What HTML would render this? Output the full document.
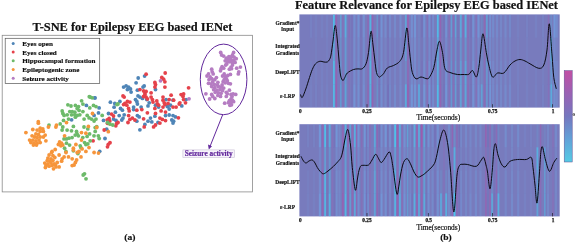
<!DOCTYPE html><html><head><meta charset="utf-8"><title>Figure</title><style>html,body{margin:0;padding:0;background:#fff}svg{display:block}text{font-family:"Liberation Serif",serif}</style></head><body>
<svg width="575" height="242" viewBox="0 0 575 242">
<rect width="575" height="242" fill="#fff"/>
<text x="132.5" y="31.3" font-size="12.6" font-weight="bold" text-anchor="middle" fill="#111" stroke="#111" stroke-width="0.2" textLength="200" lengthAdjust="spacingAndGlyphs">T-SNE for Epilepsy EEG based IENet</text>
<rect x="2.2" y="35.3" width="250.2" height="156.6" fill="#fff" stroke="#8a8a8a" stroke-width="0.8"/>
<g>
<circle cx="106.7" cy="129.2" r="1.9" fill="#4f85b7"/>
<circle cx="94.7" cy="97.8" r="1.9" fill="#4f85b7"/>
<circle cx="105.0" cy="138.5" r="1.9" fill="#4f85b7"/>
<circle cx="99.7" cy="151.3" r="1.9" fill="#4f85b7"/>
<circle cx="123.6" cy="87.1" r="1.9" fill="#4f85b7"/>
<circle cx="126.1" cy="85.9" r="1.9" fill="#4f85b7"/>
<circle cx="128.6" cy="87.1" r="1.9" fill="#4f85b7"/>
<circle cx="130.5" cy="89.0" r="1.9" fill="#4f85b7"/>
<circle cx="127.4" cy="89.6" r="1.9" fill="#4f85b7"/>
<circle cx="131.1" cy="92.1" r="1.9" fill="#4f85b7"/>
<circle cx="137.4" cy="90.2" r="1.9" fill="#4f85b7"/>
<circle cx="143.0" cy="87.1" r="1.9" fill="#4f85b7"/>
<circle cx="144.2" cy="85.9" r="1.9" fill="#4f85b7"/>
<circle cx="155.5" cy="89.6" r="1.9" fill="#4f85b7"/>
<circle cx="138.0" cy="95.9" r="1.9" fill="#4f85b7"/>
<circle cx="139.9" cy="97.1" r="1.9" fill="#4f85b7"/>
<circle cx="142.4" cy="98.4" r="1.9" fill="#4f85b7"/>
<circle cx="135.5" cy="99.6" r="1.9" fill="#4f85b7"/>
<circle cx="136.8" cy="101.5" r="1.9" fill="#4f85b7"/>
<circle cx="137.4" cy="104.0" r="1.9" fill="#4f85b7"/>
<circle cx="119.9" cy="101.5" r="1.9" fill="#4f85b7"/>
<circle cx="120.5" cy="108.4" r="1.9" fill="#4f85b7"/>
<circle cx="122.4" cy="110.2" r="1.9" fill="#4f85b7"/>
<circle cx="133.6" cy="107.1" r="1.9" fill="#4f85b7"/>
<circle cx="133.6" cy="109.6" r="1.9" fill="#4f85b7"/>
<circle cx="141.1" cy="107.1" r="1.9" fill="#4f85b7"/>
<circle cx="146.8" cy="99.6" r="1.9" fill="#4f85b7"/>
<circle cx="148.0" cy="105.9" r="1.9" fill="#4f85b7"/>
<circle cx="149.2" cy="102.8" r="1.9" fill="#4f85b7"/>
<circle cx="155.5" cy="105.2" r="1.9" fill="#4f85b7"/>
<circle cx="158.6" cy="107.1" r="1.9" fill="#4f85b7"/>
<circle cx="166.1" cy="99.6" r="1.9" fill="#4f85b7"/>
<circle cx="167.4" cy="106.5" r="1.9" fill="#4f85b7"/>
<circle cx="169.2" cy="109.0" r="1.9" fill="#4f85b7"/>
<circle cx="170.5" cy="105.2" r="1.9" fill="#4f85b7"/>
<circle cx="181.8" cy="105.9" r="1.9" fill="#4f85b7"/>
<circle cx="186.1" cy="99.6" r="1.9" fill="#4f85b7"/>
<circle cx="173.0" cy="100.2" r="1.9" fill="#4f85b7"/>
<circle cx="119.2" cy="115.6" r="1.9" fill="#4f85b7"/>
<circle cx="124.2" cy="114.8" r="1.9" fill="#4f85b7"/>
<circle cx="123.0" cy="118.1" r="1.9" fill="#4f85b7"/>
<circle cx="121.8" cy="120.0" r="1.9" fill="#4f85b7"/>
<circle cx="137.4" cy="115.6" r="1.9" fill="#4f85b7"/>
<circle cx="139.2" cy="116.9" r="1.9" fill="#4f85b7"/>
<circle cx="136.8" cy="121.2" r="1.9" fill="#4f85b7"/>
<circle cx="148.0" cy="121.2" r="1.9" fill="#4f85b7"/>
<circle cx="150.5" cy="118.1" r="1.9" fill="#4f85b7"/>
<circle cx="151.8" cy="121.9" r="1.9" fill="#4f85b7"/>
<circle cx="144.9" cy="124.4" r="1.9" fill="#4f85b7"/>
<circle cx="154.9" cy="116.2" r="1.9" fill="#4f85b7"/>
<circle cx="158.0" cy="122.5" r="1.9" fill="#4f85b7"/>
<circle cx="139.9" cy="129.8" r="1.9" fill="#4f85b7"/>
<circle cx="165.5" cy="115.6" r="1.9" fill="#4f85b7"/>
<circle cx="169.2" cy="115.0" r="1.9" fill="#4f85b7"/>
<circle cx="173.0" cy="115.6" r="1.9" fill="#4f85b7"/>
<circle cx="175.5" cy="116.9" r="1.9" fill="#4f85b7"/>
<circle cx="171.8" cy="120.0" r="1.9" fill="#4f85b7"/>
<circle cx="173.6" cy="121.2" r="1.9" fill="#4f85b7"/>
<circle cx="173.0" cy="123.1" r="1.9" fill="#4f85b7"/>
<circle cx="144.6" cy="76.1" r="1.9" fill="#4f85b7"/>
<circle cx="138.2" cy="78.0" r="1.9" fill="#4f85b7"/>
<circle cx="136.1" cy="82.8" r="1.9" fill="#4f85b7"/>
<circle cx="95.0" cy="97.9" r="1.9" fill="#4f85b7"/>
<circle cx="86.4" cy="105.4" r="1.9" fill="#4f85b7"/>
<circle cx="99.1" cy="107.9" r="1.9" fill="#4f85b7"/>
<circle cx="98.5" cy="112.9" r="1.9" fill="#4f85b7"/>
<circle cx="94.1" cy="115.4" r="1.9" fill="#4f85b7"/>
<circle cx="71.6" cy="119.8" r="1.9" fill="#4f85b7"/>
<circle cx="110.4" cy="102.2" r="1.9" fill="#4f85b7"/>
<circle cx="114.8" cy="103.5" r="1.9" fill="#4f85b7"/>
<circle cx="114.1" cy="107.2" r="1.9" fill="#4f85b7"/>
<circle cx="108.5" cy="113.5" r="1.9" fill="#4f85b7"/>
<circle cx="115.4" cy="112.2" r="1.9" fill="#4f85b7"/>
<circle cx="116.0" cy="120.4" r="1.9" fill="#4f85b7"/>
<circle cx="113.5" cy="119.1" r="1.9" fill="#4f85b7"/>
<circle cx="103.5" cy="120.4" r="1.9" fill="#4f85b7"/>
<circle cx="107.5" cy="123.3" r="1.9" fill="#e5424b"/>
<circle cx="116.7" cy="123.3" r="1.9" fill="#e5424b"/>
<circle cx="115.8" cy="125.8" r="1.9" fill="#e5424b"/>
<circle cx="104.2" cy="130.0" r="1.9" fill="#e5424b"/>
<circle cx="110.0" cy="142.7" r="1.9" fill="#e5424b"/>
<circle cx="108.3" cy="144.3" r="1.9" fill="#e5424b"/>
<circle cx="107.5" cy="146.8" r="1.9" fill="#e5424b"/>
<circle cx="123.0" cy="95.9" r="1.9" fill="#e5424b"/>
<circle cx="124.2" cy="97.1" r="1.9" fill="#e5424b"/>
<circle cx="127.4" cy="101.5" r="1.9" fill="#e5424b"/>
<circle cx="124.9" cy="103.4" r="1.9" fill="#e5424b"/>
<circle cx="123.6" cy="104.6" r="1.9" fill="#e5424b"/>
<circle cx="126.8" cy="105.2" r="1.9" fill="#e5424b"/>
<circle cx="129.9" cy="102.1" r="1.9" fill="#e5424b"/>
<circle cx="128.6" cy="108.4" r="1.9" fill="#e5424b"/>
<circle cx="129.2" cy="110.9" r="1.9" fill="#e5424b"/>
<circle cx="136.8" cy="110.2" r="1.9" fill="#e5424b"/>
<circle cx="141.8" cy="109.6" r="1.9" fill="#e5424b"/>
<circle cx="139.9" cy="89.6" r="1.9" fill="#e5424b"/>
<circle cx="143.6" cy="90.9" r="1.9" fill="#e5424b"/>
<circle cx="144.9" cy="92.8" r="1.9" fill="#e5424b"/>
<circle cx="146.1" cy="91.5" r="1.9" fill="#e5424b"/>
<circle cx="144.9" cy="94.6" r="1.9" fill="#e5424b"/>
<circle cx="143.6" cy="96.5" r="1.9" fill="#e5424b"/>
<circle cx="146.1" cy="97.1" r="1.9" fill="#e5424b"/>
<circle cx="147.4" cy="99.0" r="1.9" fill="#e5424b"/>
<circle cx="151.1" cy="92.8" r="1.9" fill="#e5424b"/>
<circle cx="151.1" cy="97.1" r="1.9" fill="#e5424b"/>
<circle cx="152.4" cy="99.6" r="1.9" fill="#e5424b"/>
<circle cx="153.0" cy="102.1" r="1.9" fill="#e5424b"/>
<circle cx="154.9" cy="87.1" r="1.9" fill="#e5424b"/>
<circle cx="155.5" cy="84.6" r="1.9" fill="#e5424b"/>
<circle cx="164.9" cy="87.1" r="1.9" fill="#e5424b"/>
<circle cx="156.8" cy="100.9" r="1.9" fill="#e5424b"/>
<circle cx="157.4" cy="104.0" r="1.9" fill="#e5424b"/>
<circle cx="158.6" cy="105.2" r="1.9" fill="#e5424b"/>
<circle cx="163.0" cy="97.1" r="1.9" fill="#e5424b"/>
<circle cx="163.0" cy="100.2" r="1.9" fill="#e5424b"/>
<circle cx="164.2" cy="102.8" r="1.9" fill="#e5424b"/>
<circle cx="164.9" cy="104.6" r="1.9" fill="#e5424b"/>
<circle cx="168.0" cy="103.4" r="1.9" fill="#e5424b"/>
<circle cx="163.0" cy="107.1" r="1.9" fill="#e5424b"/>
<circle cx="154.9" cy="108.4" r="1.9" fill="#e5424b"/>
<circle cx="161.1" cy="110.9" r="1.9" fill="#e5424b"/>
<circle cx="169.2" cy="99.6" r="1.9" fill="#e5424b"/>
<circle cx="171.1" cy="95.2" r="1.9" fill="#e5424b"/>
<circle cx="173.6" cy="100.2" r="1.9" fill="#e5424b"/>
<circle cx="173.0" cy="107.1" r="1.9" fill="#e5424b"/>
<circle cx="176.1" cy="107.1" r="1.9" fill="#e5424b"/>
<circle cx="179.2" cy="104.0" r="1.9" fill="#e5424b"/>
<circle cx="179.9" cy="102.8" r="1.9" fill="#e5424b"/>
<circle cx="181.1" cy="94.6" r="1.9" fill="#e5424b"/>
<circle cx="183.6" cy="94.0" r="1.9" fill="#e5424b"/>
<circle cx="183.0" cy="96.5" r="1.9" fill="#e5424b"/>
<circle cx="183.6" cy="99.6" r="1.9" fill="#e5424b"/>
<circle cx="185.5" cy="102.8" r="1.9" fill="#e5424b"/>
<circle cx="188.6" cy="87.8" r="1.9" fill="#e5424b"/>
<circle cx="165.5" cy="112.1" r="1.9" fill="#e5424b"/>
<circle cx="147.4" cy="112.8" r="1.9" fill="#e5424b"/>
<circle cx="155.5" cy="113.4" r="1.9" fill="#e5424b"/>
<circle cx="128.6" cy="115.6" r="1.9" fill="#e5424b"/>
<circle cx="129.9" cy="119.4" r="1.9" fill="#e5424b"/>
<circle cx="132.4" cy="118.1" r="1.9" fill="#e5424b"/>
<circle cx="134.9" cy="120.0" r="1.9" fill="#e5424b"/>
<circle cx="128.0" cy="122.5" r="1.9" fill="#e5424b"/>
<circle cx="118.0" cy="122.5" r="1.9" fill="#e5424b"/>
<circle cx="143.6" cy="118.8" r="1.9" fill="#e5424b"/>
<circle cx="159.9" cy="118.1" r="1.9" fill="#e5424b"/>
<circle cx="162.4" cy="119.4" r="1.9" fill="#e5424b"/>
<circle cx="165.5" cy="120.6" r="1.9" fill="#e5424b"/>
<circle cx="159.9" cy="123.1" r="1.9" fill="#e5424b"/>
<circle cx="155.5" cy="125.0" r="1.9" fill="#e5424b"/>
<circle cx="153.6" cy="126.9" r="1.9" fill="#e5424b"/>
<circle cx="144.2" cy="126.9" r="1.9" fill="#e5424b"/>
<circle cx="178.4" cy="117.8" r="1.9" fill="#e5424b"/>
<circle cx="146.1" cy="74.2" r="1.9" fill="#e5424b"/>
<circle cx="165.2" cy="73.0" r="1.9" fill="#e5424b"/>
<circle cx="161.8" cy="77.4" r="1.9" fill="#e5424b"/>
<circle cx="163.6" cy="79.2" r="1.9" fill="#e5424b"/>
<circle cx="164.9" cy="81.8" r="1.9" fill="#e5424b"/>
<circle cx="154.9" cy="82.4" r="1.9" fill="#e5424b"/>
<circle cx="93.1" cy="140.8" r="1.9" fill="#e5424b"/>
<circle cx="111.6" cy="114.1" r="1.9" fill="#e5424b"/>
<circle cx="113.5" cy="116.0" r="1.9" fill="#e5424b"/>
<circle cx="109.1" cy="118.5" r="1.9" fill="#e5424b"/>
<circle cx="107.2" cy="119.8" r="1.9" fill="#e5424b"/>
<circle cx="109.8" cy="121.0" r="1.9" fill="#e5424b"/>
<circle cx="96.7" cy="126.7" r="1.9" fill="#6dba6a"/>
<circle cx="98.3" cy="135.8" r="1.9" fill="#6dba6a"/>
<circle cx="110.0" cy="124.2" r="1.9" fill="#6dba6a"/>
<circle cx="112.8" cy="125.0" r="1.9" fill="#6dba6a"/>
<circle cx="107.5" cy="122.5" r="1.9" fill="#6dba6a"/>
<circle cx="89.3" cy="96.7" r="1.9" fill="#6dba6a"/>
<circle cx="92.2" cy="97.8" r="1.9" fill="#6dba6a"/>
<circle cx="99.2" cy="138.5" r="1.9" fill="#6dba6a"/>
<circle cx="118.0" cy="104.0" r="1.9" fill="#6dba6a"/>
<circle cx="49.0" cy="125.1" r="1.9" fill="#6dba6a"/>
<circle cx="60.2" cy="123.9" r="1.9" fill="#6dba6a"/>
<circle cx="62.8" cy="127.0" r="1.9" fill="#6dba6a"/>
<circle cx="62.1" cy="130.1" r="1.9" fill="#6dba6a"/>
<circle cx="67.1" cy="130.1" r="1.9" fill="#6dba6a"/>
<circle cx="71.5" cy="130.8" r="1.9" fill="#6dba6a"/>
<circle cx="73.4" cy="126.4" r="1.9" fill="#6dba6a"/>
<circle cx="76.5" cy="131.4" r="1.9" fill="#6dba6a"/>
<circle cx="77.1" cy="133.9" r="1.9" fill="#6dba6a"/>
<circle cx="75.2" cy="135.1" r="1.9" fill="#6dba6a"/>
<circle cx="78.4" cy="135.8" r="1.9" fill="#6dba6a"/>
<circle cx="72.1" cy="137.6" r="1.9" fill="#6dba6a"/>
<circle cx="69.0" cy="138.2" r="1.9" fill="#6dba6a"/>
<circle cx="66.5" cy="138.9" r="1.9" fill="#6dba6a"/>
<circle cx="64.0" cy="138.9" r="1.9" fill="#6dba6a"/>
<circle cx="84.0" cy="127.0" r="1.9" fill="#6dba6a"/>
<circle cx="87.8" cy="128.9" r="1.9" fill="#6dba6a"/>
<circle cx="95.2" cy="127.6" r="1.9" fill="#6dba6a"/>
<circle cx="95.2" cy="131.4" r="1.9" fill="#6dba6a"/>
<circle cx="82.8" cy="137.6" r="1.9" fill="#6dba6a"/>
<circle cx="87.1" cy="136.4" r="1.9" fill="#6dba6a"/>
<circle cx="89.6" cy="133.9" r="1.9" fill="#6dba6a"/>
<circle cx="66.5" cy="143.2" r="1.9" fill="#6dba6a"/>
<circle cx="69.6" cy="145.1" r="1.9" fill="#6dba6a"/>
<circle cx="64.6" cy="148.2" r="1.9" fill="#6dba6a"/>
<circle cx="65.9" cy="151.4" r="1.9" fill="#6dba6a"/>
<circle cx="80.2" cy="145.8" r="1.9" fill="#6dba6a"/>
<circle cx="80.9" cy="147.6" r="1.9" fill="#6dba6a"/>
<circle cx="84.6" cy="142.6" r="1.9" fill="#6dba6a"/>
<circle cx="85.9" cy="144.5" r="1.9" fill="#6dba6a"/>
<circle cx="87.8" cy="143.9" r="1.9" fill="#6dba6a"/>
<circle cx="90.2" cy="140.8" r="1.9" fill="#6dba6a"/>
<circle cx="94.0" cy="135.8" r="1.9" fill="#6dba6a"/>
<circle cx="73.4" cy="150.8" r="1.9" fill="#6dba6a"/>
<circle cx="77.9" cy="153.5" r="1.9" fill="#6dba6a"/>
<circle cx="84.5" cy="173.8" r="1.9" fill="#6dba6a"/>
<circle cx="83.2" cy="175.0" r="1.9" fill="#6dba6a"/>
<circle cx="86.0" cy="178.8" r="1.9" fill="#6dba6a"/>
<circle cx="90.4" cy="97.2" r="1.9" fill="#6dba6a"/>
<circle cx="81.6" cy="100.8" r="1.9" fill="#6dba6a"/>
<circle cx="82.9" cy="104.1" r="1.9" fill="#6dba6a"/>
<circle cx="67.9" cy="104.8" r="1.9" fill="#6dba6a"/>
<circle cx="71.0" cy="106.0" r="1.9" fill="#6dba6a"/>
<circle cx="75.4" cy="105.4" r="1.9" fill="#6dba6a"/>
<circle cx="78.5" cy="106.6" r="1.9" fill="#6dba6a"/>
<circle cx="77.2" cy="108.5" r="1.9" fill="#6dba6a"/>
<circle cx="79.1" cy="110.4" r="1.9" fill="#6dba6a"/>
<circle cx="82.9" cy="111.6" r="1.9" fill="#6dba6a"/>
<circle cx="62.2" cy="111.0" r="1.9" fill="#6dba6a"/>
<circle cx="62.9" cy="113.5" r="1.9" fill="#6dba6a"/>
<circle cx="64.1" cy="115.4" r="1.9" fill="#6dba6a"/>
<circle cx="67.2" cy="114.8" r="1.9" fill="#6dba6a"/>
<circle cx="69.8" cy="111.6" r="1.9" fill="#6dba6a"/>
<circle cx="72.2" cy="111.6" r="1.9" fill="#6dba6a"/>
<circle cx="74.8" cy="112.2" r="1.9" fill="#6dba6a"/>
<circle cx="71.6" cy="114.8" r="1.9" fill="#6dba6a"/>
<circle cx="74.8" cy="114.8" r="1.9" fill="#6dba6a"/>
<circle cx="77.2" cy="115.4" r="1.9" fill="#6dba6a"/>
<circle cx="79.8" cy="114.8" r="1.9" fill="#6dba6a"/>
<circle cx="75.4" cy="117.2" r="1.9" fill="#6dba6a"/>
<circle cx="68.5" cy="119.1" r="1.9" fill="#6dba6a"/>
<circle cx="63.5" cy="120.4" r="1.9" fill="#6dba6a"/>
<circle cx="84.1" cy="119.1" r="1.9" fill="#6dba6a"/>
<circle cx="87.2" cy="115.4" r="1.9" fill="#6dba6a"/>
<circle cx="89.1" cy="117.9" r="1.9" fill="#6dba6a"/>
<circle cx="91.6" cy="119.1" r="1.9" fill="#6dba6a"/>
<circle cx="94.1" cy="121.0" r="1.9" fill="#6dba6a"/>
<circle cx="96.0" cy="119.1" r="1.9" fill="#6dba6a"/>
<circle cx="89.8" cy="107.9" r="1.9" fill="#6dba6a"/>
<circle cx="93.5" cy="105.4" r="1.9" fill="#6dba6a"/>
<circle cx="96.0" cy="106.6" r="1.9" fill="#6dba6a"/>
<circle cx="102.2" cy="115.4" r="1.9" fill="#6dba6a"/>
<circle cx="117.0" cy="104.5" r="1.9" fill="#6dba6a"/>
<circle cx="38.3" cy="121.7" r="1.9" fill="#f6953b"/>
<circle cx="96.7" cy="127.5" r="1.9" fill="#f6953b"/>
<circle cx="108.3" cy="131.7" r="1.9" fill="#f6953b"/>
<circle cx="25.9" cy="132.6" r="1.9" fill="#f6953b"/>
<circle cx="32.8" cy="129.5" r="1.9" fill="#f6953b"/>
<circle cx="37.1" cy="130.1" r="1.9" fill="#f6953b"/>
<circle cx="40.2" cy="128.2" r="1.9" fill="#f6953b"/>
<circle cx="42.8" cy="128.9" r="1.9" fill="#f6953b"/>
<circle cx="43.4" cy="131.4" r="1.9" fill="#f6953b"/>
<circle cx="40.2" cy="131.4" r="1.9" fill="#f6953b"/>
<circle cx="35.9" cy="133.9" r="1.9" fill="#f6953b"/>
<circle cx="38.4" cy="134.5" r="1.9" fill="#f6953b"/>
<circle cx="32.1" cy="135.8" r="1.9" fill="#f6953b"/>
<circle cx="34.6" cy="137.0" r="1.9" fill="#f6953b"/>
<circle cx="37.1" cy="137.6" r="1.9" fill="#f6953b"/>
<circle cx="40.2" cy="137.0" r="1.9" fill="#f6953b"/>
<circle cx="45.2" cy="135.1" r="1.9" fill="#f6953b"/>
<circle cx="29.6" cy="140.1" r="1.9" fill="#f6953b"/>
<circle cx="32.8" cy="140.1" r="1.9" fill="#f6953b"/>
<circle cx="35.9" cy="140.8" r="1.9" fill="#f6953b"/>
<circle cx="39.0" cy="140.1" r="1.9" fill="#f6953b"/>
<circle cx="30.9" cy="142.6" r="1.9" fill="#f6953b"/>
<circle cx="34.0" cy="143.2" r="1.9" fill="#f6953b"/>
<circle cx="37.1" cy="143.2" r="1.9" fill="#f6953b"/>
<circle cx="40.2" cy="142.6" r="1.9" fill="#f6953b"/>
<circle cx="33.4" cy="145.1" r="1.9" fill="#f6953b"/>
<circle cx="36.5" cy="145.1" r="1.9" fill="#f6953b"/>
<circle cx="43.4" cy="137.0" r="1.9" fill="#f6953b"/>
<circle cx="45.9" cy="140.8" r="1.9" fill="#f6953b"/>
<circle cx="48.4" cy="127.0" r="1.9" fill="#f6953b"/>
<circle cx="38.4" cy="123.2" r="1.9" fill="#f6953b"/>
<circle cx="55.9" cy="127.0" r="1.9" fill="#f6953b"/>
<circle cx="56.5" cy="125.1" r="1.9" fill="#f6953b"/>
<circle cx="66.5" cy="122.6" r="1.9" fill="#f6953b"/>
<circle cx="64.6" cy="135.8" r="1.9" fill="#f6953b"/>
<circle cx="59.6" cy="142.0" r="1.9" fill="#f6953b"/>
<circle cx="61.5" cy="143.2" r="1.9" fill="#f6953b"/>
<circle cx="58.4" cy="144.5" r="1.9" fill="#f6953b"/>
<circle cx="60.9" cy="145.8" r="1.9" fill="#f6953b"/>
<circle cx="62.8" cy="145.1" r="1.9" fill="#f6953b"/>
<circle cx="55.2" cy="149.5" r="1.9" fill="#f6953b"/>
<circle cx="52.1" cy="151.4" r="1.9" fill="#f6953b"/>
<circle cx="75.9" cy="144.5" r="1.9" fill="#f6953b"/>
<circle cx="73.4" cy="148.2" r="1.9" fill="#f6953b"/>
<circle cx="73.4" cy="150.1" r="1.9" fill="#f6953b"/>
<circle cx="81.5" cy="140.1" r="1.9" fill="#f6953b"/>
<circle cx="81.5" cy="132.6" r="1.9" fill="#f6953b"/>
<circle cx="85.9" cy="133.2" r="1.9" fill="#f6953b"/>
<circle cx="88.4" cy="126.4" r="1.9" fill="#f6953b"/>
<circle cx="89.0" cy="147.6" r="1.9" fill="#f6953b"/>
<circle cx="82.1" cy="148.9" r="1.9" fill="#f6953b"/>
<circle cx="79.0" cy="151.4" r="1.9" fill="#f6953b"/>
<circle cx="85.9" cy="151.4" r="1.9" fill="#f6953b"/>
<circle cx="51.6" cy="152.5" r="1.9" fill="#f6953b"/>
<circle cx="49.1" cy="155.0" r="1.9" fill="#f6953b"/>
<circle cx="52.9" cy="155.6" r="1.9" fill="#f6953b"/>
<circle cx="47.9" cy="158.1" r="1.9" fill="#f6953b"/>
<circle cx="51.0" cy="158.8" r="1.9" fill="#f6953b"/>
<circle cx="54.8" cy="157.5" r="1.9" fill="#f6953b"/>
<circle cx="47.2" cy="160.6" r="1.9" fill="#f6953b"/>
<circle cx="49.8" cy="161.2" r="1.9" fill="#f6953b"/>
<circle cx="52.9" cy="160.6" r="1.9" fill="#f6953b"/>
<circle cx="44.8" cy="163.1" r="1.9" fill="#f6953b"/>
<circle cx="47.9" cy="163.8" r="1.9" fill="#f6953b"/>
<circle cx="51.0" cy="163.1" r="1.9" fill="#f6953b"/>
<circle cx="54.1" cy="163.8" r="1.9" fill="#f6953b"/>
<circle cx="57.2" cy="162.5" r="1.9" fill="#f6953b"/>
<circle cx="46.0" cy="165.6" r="1.9" fill="#f6953b"/>
<circle cx="49.1" cy="166.2" r="1.9" fill="#f6953b"/>
<circle cx="52.2" cy="165.6" r="1.9" fill="#f6953b"/>
<circle cx="55.4" cy="165.0" r="1.9" fill="#f6953b"/>
<circle cx="45.4" cy="167.5" r="1.9" fill="#f6953b"/>
<circle cx="53.5" cy="168.8" r="1.9" fill="#f6953b"/>
<circle cx="59.1" cy="166.9" r="1.9" fill="#f6953b"/>
<circle cx="56.0" cy="166.9" r="1.9" fill="#f6953b"/>
<circle cx="59.1" cy="155.0" r="1.9" fill="#f6953b"/>
<circle cx="64.1" cy="156.9" r="1.9" fill="#f6953b"/>
<circle cx="62.2" cy="158.8" r="1.9" fill="#f6953b"/>
<circle cx="61.6" cy="161.2" r="1.9" fill="#f6953b"/>
<circle cx="68.5" cy="156.9" r="1.9" fill="#f6953b"/>
<circle cx="72.2" cy="158.8" r="1.9" fill="#f6953b"/>
<circle cx="66.0" cy="152.5" r="1.9" fill="#f6953b"/>
<circle cx="77.2" cy="152.5" r="1.9" fill="#f6953b"/>
<circle cx="81.0" cy="156.9" r="1.9" fill="#f6953b"/>
<circle cx="76.6" cy="160.0" r="1.9" fill="#f6953b"/>
<circle cx="75.4" cy="162.5" r="1.9" fill="#f6953b"/>
<circle cx="74.1" cy="165.0" r="1.9" fill="#f6953b"/>
<circle cx="72.2" cy="165.6" r="1.9" fill="#f6953b"/>
<circle cx="94.1" cy="152.5" r="1.9" fill="#f6953b"/>
<circle cx="98.5" cy="153.1" r="1.9" fill="#f6953b"/>
<circle cx="92.5" cy="113.5" r="1.9" fill="#f6953b"/>
<circle cx="189.0" cy="98.8" r="1.9" fill="#b57cc2"/>
<circle cx="160.5" cy="80.8" r="1.9" fill="#b57cc2"/>
<circle cx="220.7" cy="52.4" r="1.9" fill="#b57cc2"/>
<circle cx="221.6" cy="55.0" r="1.9" fill="#b57cc2"/>
<circle cx="223.7" cy="56.1" r="1.9" fill="#b57cc2"/>
<circle cx="233.6" cy="52.4" r="1.9" fill="#b57cc2"/>
<circle cx="232.5" cy="55.0" r="1.9" fill="#b57cc2"/>
<circle cx="228.9" cy="56.6" r="1.9" fill="#b57cc2"/>
<circle cx="231.5" cy="56.6" r="1.9" fill="#b57cc2"/>
<circle cx="234.1" cy="57.1" r="1.9" fill="#b57cc2"/>
<circle cx="226.3" cy="58.2" r="1.9" fill="#b57cc2"/>
<circle cx="236.2" cy="58.7" r="1.9" fill="#b57cc2"/>
<circle cx="228.4" cy="59.2" r="1.9" fill="#b57cc2"/>
<circle cx="231.0" cy="59.7" r="1.9" fill="#b57cc2"/>
<circle cx="233.6" cy="60.3" r="1.9" fill="#b57cc2"/>
<circle cx="225.2" cy="60.8" r="1.9" fill="#b57cc2"/>
<circle cx="227.3" cy="61.8" r="1.9" fill="#b57cc2"/>
<circle cx="229.9" cy="61.8" r="1.9" fill="#b57cc2"/>
<circle cx="232.5" cy="62.4" r="1.9" fill="#b57cc2"/>
<circle cx="235.1" cy="62.4" r="1.9" fill="#b57cc2"/>
<circle cx="226.8" cy="63.9" r="1.9" fill="#b57cc2"/>
<circle cx="225.7" cy="65.0" r="1.9" fill="#b57cc2"/>
<circle cx="222.1" cy="66.6" r="1.9" fill="#b57cc2"/>
<circle cx="221.1" cy="68.7" r="1.9" fill="#b57cc2"/>
<circle cx="220.5" cy="70.8" r="1.9" fill="#b57cc2"/>
<circle cx="223.7" cy="68.2" r="1.9" fill="#b57cc2"/>
<circle cx="231.0" cy="67.1" r="1.9" fill="#b57cc2"/>
<circle cx="229.4" cy="69.2" r="1.9" fill="#b57cc2"/>
<circle cx="231.5" cy="68.7" r="1.9" fill="#b57cc2"/>
<circle cx="236.7" cy="68.2" r="1.9" fill="#b57cc2"/>
<circle cx="240.4" cy="67.1" r="1.9" fill="#b57cc2"/>
<circle cx="238.8" cy="71.8" r="1.9" fill="#b57cc2"/>
<circle cx="238.3" cy="73.9" r="1.9" fill="#b57cc2"/>
<circle cx="211.7" cy="69.2" r="1.9" fill="#b57cc2"/>
<circle cx="212.2" cy="71.8" r="1.9" fill="#b57cc2"/>
<circle cx="208.5" cy="73.9" r="1.9" fill="#b57cc2"/>
<circle cx="213.2" cy="73.9" r="1.9" fill="#b57cc2"/>
<circle cx="207.0" cy="76.0" r="1.9" fill="#b57cc2"/>
<circle cx="210.1" cy="77.0" r="1.9" fill="#b57cc2"/>
<circle cx="209.0" cy="79.7" r="1.9" fill="#b57cc2"/>
<circle cx="211.7" cy="78.6" r="1.9" fill="#b57cc2"/>
<circle cx="216.4" cy="77.6" r="1.9" fill="#b57cc2"/>
<circle cx="214.8" cy="79.7" r="1.9" fill="#b57cc2"/>
<circle cx="212.7" cy="81.7" r="1.9" fill="#b57cc2"/>
<circle cx="208.5" cy="83.3" r="1.9" fill="#b57cc2"/>
<circle cx="211.1" cy="83.8" r="1.9" fill="#b57cc2"/>
<circle cx="214.3" cy="84.4" r="1.9" fill="#b57cc2"/>
<circle cx="217.9" cy="82.3" r="1.9" fill="#b57cc2"/>
<circle cx="217.4" cy="84.9" r="1.9" fill="#b57cc2"/>
<circle cx="224.2" cy="73.9" r="1.9" fill="#b57cc2"/>
<circle cx="222.6" cy="76.0" r="1.9" fill="#b57cc2"/>
<circle cx="225.2" cy="76.5" r="1.9" fill="#b57cc2"/>
<circle cx="227.8" cy="75.5" r="1.9" fill="#b57cc2"/>
<circle cx="230.4" cy="74.4" r="1.9" fill="#b57cc2"/>
<circle cx="226.3" cy="78.6" r="1.9" fill="#b57cc2"/>
<circle cx="224.2" cy="79.7" r="1.9" fill="#b57cc2"/>
<circle cx="227.3" cy="80.7" r="1.9" fill="#b57cc2"/>
<circle cx="223.1" cy="81.7" r="1.9" fill="#b57cc2"/>
<circle cx="225.2" cy="82.8" r="1.9" fill="#b57cc2"/>
<circle cx="228.4" cy="83.3" r="1.9" fill="#b57cc2"/>
<circle cx="230.4" cy="83.8" r="1.9" fill="#b57cc2"/>
<circle cx="222.1" cy="84.9" r="1.9" fill="#b57cc2"/>
<circle cx="232.5" cy="65.0" r="1.9" fill="#b57cc2"/>
<circle cx="211.7" cy="86.5" r="1.9" fill="#b57cc2"/>
<circle cx="214.8" cy="87.6" r="1.9" fill="#b57cc2"/>
<circle cx="218.4" cy="86.5" r="1.9" fill="#b57cc2"/>
<circle cx="221.6" cy="87.0" r="1.9" fill="#b57cc2"/>
<circle cx="223.7" cy="88.1" r="1.9" fill="#b57cc2"/>
<circle cx="213.7" cy="89.7" r="1.9" fill="#b57cc2"/>
<circle cx="216.9" cy="90.2" r="1.9" fill="#b57cc2"/>
<circle cx="220.0" cy="89.7" r="1.9" fill="#b57cc2"/>
<circle cx="222.6" cy="90.7" r="1.9" fill="#b57cc2"/>
<circle cx="229.4" cy="90.2" r="1.9" fill="#b57cc2"/>
<circle cx="215.3" cy="92.3" r="1.9" fill="#b57cc2"/>
<circle cx="218.4" cy="92.8" r="1.9" fill="#b57cc2"/>
<circle cx="221.1" cy="93.3" r="1.9" fill="#b57cc2"/>
<circle cx="226.3" cy="92.3" r="1.9" fill="#b57cc2"/>
<circle cx="227.3" cy="93.8" r="1.9" fill="#b57cc2"/>
<circle cx="217.9" cy="95.4" r="1.9" fill="#b57cc2"/>
<circle cx="220.5" cy="96.4" r="1.9" fill="#b57cc2"/>
<circle cx="226.3" cy="96.4" r="1.9" fill="#b57cc2"/>
<circle cx="231.0" cy="94.4" r="1.9" fill="#b57cc2"/>
<circle cx="233.1" cy="93.8" r="1.9" fill="#b57cc2"/>
<circle cx="235.7" cy="94.4" r="1.9" fill="#b57cc2"/>
<circle cx="232.0" cy="96.4" r="1.9" fill="#b57cc2"/>
<circle cx="205.9" cy="93.8" r="1.9" fill="#b57cc2"/>
<circle cx="211.7" cy="94.4" r="1.9" fill="#b57cc2"/>
<circle cx="212.7" cy="96.4" r="1.9" fill="#b57cc2"/>
<circle cx="209.6" cy="99.0" r="1.9" fill="#b57cc2"/>
<circle cx="214.8" cy="98.5" r="1.9" fill="#b57cc2"/>
<circle cx="231.0" cy="99.0" r="1.9" fill="#b57cc2"/>
<circle cx="232.5" cy="100.1" r="1.9" fill="#b57cc2"/>
<circle cx="229.4" cy="100.6" r="1.9" fill="#b57cc2"/>
<circle cx="233.6" cy="101.7" r="1.9" fill="#b57cc2"/>
<circle cx="228.4" cy="102.7" r="1.9" fill="#b57cc2"/>
<circle cx="231.0" cy="102.7" r="1.9" fill="#b57cc2"/>
<circle cx="224.7" cy="103.2" r="1.9" fill="#b57cc2"/>
<circle cx="229.9" cy="105.3" r="1.9" fill="#b57cc2"/>
<circle cx="231.5" cy="104.8" r="1.9" fill="#b57cc2"/>
</g>
<ellipse cx="223.6" cy="79.4" rx="23.3" ry="35.3" fill="none" stroke="#62289c" stroke-width="1"/>
<path d="M222.7 114.7 L210 146.5" fill="none" stroke="#62289c" stroke-width="1"/>
<path d="M208.8 149.6 L208 144.6 L212 146.2 Z" fill="#62289c"/>
<rect x="182.9" y="149.9" width="51.6" height="7.5" fill="#f7f3fb" stroke="#c8c0d6" stroke-width="0.6"/>
<text x="208.7" y="156.1" font-size="7.6" font-weight="bold" text-anchor="middle" fill="#62289c" stroke="#62289c" stroke-width="0.2" textLength="48" lengthAdjust="spacingAndGlyphs">Seizure activity</text>
<rect x="5.2" y="38.3" width="94.5" height="45.1" fill="#fff" stroke="#555" stroke-width="0.7"/>
<circle cx="13.2" cy="43.4" r="1.5" fill="#4f85b7"/>
<text x="22.3" y="46.0" font-size="6.6" font-weight="bold" fill="#111" stroke="#111" stroke-width="0.15" textLength="30.6" lengthAdjust="spacingAndGlyphs">Eyes open</text>
<circle cx="13.2" cy="52.1" r="1.5" fill="#e5424b"/>
<text x="22.3" y="54.7" font-size="6.6" font-weight="bold" fill="#111" stroke="#111" stroke-width="0.15" textLength="34.5" lengthAdjust="spacingAndGlyphs">Eyes closed</text>
<circle cx="13.2" cy="60.8" r="1.5" fill="#6dba6a"/>
<text x="22.3" y="63.4" font-size="6.6" font-weight="bold" fill="#111" stroke="#111" stroke-width="0.15" textLength="73.2" lengthAdjust="spacingAndGlyphs">Hippocampal formation</text>
<circle cx="13.2" cy="69.6" r="1.5" fill="#f6953b"/>
<text x="22.3" y="72.2" font-size="6.6" font-weight="bold" fill="#111" stroke="#111" stroke-width="0.15" textLength="57.0" lengthAdjust="spacingAndGlyphs">Epileptogenic zone</text>
<circle cx="13.2" cy="78.3" r="1.5" fill="#b57cc2"/>
<text x="22.3" y="80.9" font-size="6.6" font-weight="bold" fill="#111" stroke="#111" stroke-width="0.15" textLength="46.6" lengthAdjust="spacingAndGlyphs">Seizure activity</text>
<text x="129.8" y="239.8" font-size="8.6" font-weight="bold" text-anchor="middle" fill="#111" stroke="#111" stroke-width="0.15" textLength="11.2" lengthAdjust="spacingAndGlyphs">(a)</text>
<text x="426.5" y="9.2" font-size="12.6" font-weight="bold" text-anchor="middle" fill="#111" stroke="#111" stroke-width="0.2" textLength="263" lengthAdjust="spacingAndGlyphs">Feature Relevance for Epilepsy EEG based IENet</text>
<defs><filter id="bl" x="-2%" y="-2%" width="104%" height="104%"><feGaussianBlur stdDeviation="0.45 0.25"/></filter>
<clipPath id="cp11"><rect x="299.4" y="14.4" width="260.3" height="93.2"/></clipPath><clipPath id="cp29"><rect x="299.4" y="124.2" width="260.3" height="92.2"/></clipPath></defs>
<rect x="299.4" y="14.4" width="260.3" height="93.2" fill="#787bbd"/>
<g filter="url(#bl)" clip-path="url(#cp11)">
<rect x="333.00" y="14.40" width="1.8" height="23.30" fill="#4cc4ec" opacity="0.86"/>
<rect x="333.00" y="37.70" width="1.8" height="23.30" fill="#4cc4ec" opacity="0.54"/>
<rect x="333.00" y="61.00" width="1.8" height="23.30" fill="#4cc4ec" opacity="0.82"/>
<rect x="333.00" y="84.30" width="1.8" height="23.30" fill="#4cc4ec" opacity="0.82"/>
<rect x="340.05" y="14.40" width="1.5" height="23.30" fill="#4cc4ec" opacity="0.46"/>
<rect x="340.05" y="37.70" width="1.5" height="23.30" fill="#4cc4ec" opacity="0.29"/>
<rect x="340.05" y="61.00" width="1.5" height="23.30" fill="#4cc4ec" opacity="0.33"/>
<rect x="340.05" y="84.30" width="1.5" height="23.30" fill="#4cc4ec" opacity="0.44"/>
<rect x="344.70" y="14.40" width="1.8" height="23.30" fill="#4cc4ec" opacity="0.68"/>
<rect x="344.70" y="37.70" width="1.8" height="23.30" fill="#4cc4ec" opacity="0.43"/>
<rect x="344.70" y="61.00" width="1.8" height="23.30" fill="#4cc4ec" opacity="0.44"/>
<rect x="344.70" y="84.30" width="1.8" height="23.30" fill="#4cc4ec" opacity="0.57"/>
<rect x="369.50" y="14.40" width="1.8" height="23.30" fill="#4cc4ec" opacity="0.74"/>
<rect x="369.50" y="37.70" width="1.8" height="23.30" fill="#4cc4ec" opacity="0.59"/>
<rect x="369.50" y="61.00" width="1.8" height="23.30" fill="#4cc4ec" opacity="0.75"/>
<rect x="369.50" y="84.30" width="1.8" height="23.30" fill="#4cc4ec" opacity="0.69"/>
<rect x="376.55" y="14.40" width="1.5" height="23.30" fill="#4cc4ec" opacity="0.33"/>
<rect x="376.55" y="37.70" width="1.5" height="23.30" fill="#4cc4ec" opacity="0.20"/>
<rect x="376.55" y="61.00" width="1.5" height="23.30" fill="#4cc4ec" opacity="0.23"/>
<rect x="376.55" y="84.30" width="1.5" height="23.30" fill="#4cc4ec" opacity="0.28"/>
<rect x="404.90" y="14.40" width="1.8" height="23.30" fill="#4cc4ec" opacity="0.56"/>
<rect x="404.90" y="37.70" width="1.8" height="23.30" fill="#4cc4ec" opacity="0.42"/>
<rect x="404.90" y="61.00" width="1.8" height="23.30" fill="#4cc4ec" opacity="0.20"/>
<rect x="404.90" y="84.30" width="1.8" height="23.30" fill="#4cc4ec" opacity="0.65"/>
<rect x="418.10" y="14.40" width="1.8" height="23.30" fill="#4cc4ec" opacity="0.11"/>
<rect x="418.10" y="37.70" width="1.8" height="23.30" fill="#4cc4ec" opacity="0.12"/>
<rect x="418.10" y="61.00" width="1.8" height="23.30" fill="#4cc4ec" opacity="0.16"/>
<rect x="418.10" y="84.30" width="1.8" height="23.30" fill="#4cc4ec" opacity="0.64"/>
<rect x="436.90" y="14.40" width="1.8" height="23.30" fill="#4cc4ec" opacity="0.86"/>
<rect x="436.90" y="37.70" width="1.8" height="23.30" fill="#4cc4ec" opacity="0.60"/>
<rect x="436.90" y="61.00" width="1.8" height="23.30" fill="#4cc4ec" opacity="0.71"/>
<rect x="436.90" y="84.30" width="1.8" height="23.30" fill="#4cc4ec" opacity="0.88"/>
<rect x="450.65" y="14.40" width="1.5" height="23.30" fill="#4cc4ec" opacity="0.46"/>
<rect x="450.65" y="37.70" width="1.5" height="23.30" fill="#4cc4ec" opacity="0.29"/>
<rect x="450.65" y="61.00" width="1.5" height="23.30" fill="#4cc4ec" opacity="0.36"/>
<rect x="450.65" y="84.30" width="1.5" height="23.30" fill="#4cc4ec" opacity="0.40"/>
<rect x="454.85" y="14.40" width="1.5" height="23.30" fill="#4cc4ec" opacity="0.55"/>
<rect x="454.85" y="37.70" width="1.5" height="23.30" fill="#4cc4ec" opacity="0.33"/>
<rect x="454.85" y="61.00" width="1.5" height="23.30" fill="#4cc4ec" opacity="0.42"/>
<rect x="454.85" y="84.30" width="1.5" height="23.30" fill="#4cc4ec" opacity="0.47"/>
<rect x="459.90" y="14.40" width="1.8" height="23.30" fill="#4cc4ec" opacity="0.60"/>
<rect x="459.90" y="37.70" width="1.8" height="23.30" fill="#4cc4ec" opacity="0.35"/>
<rect x="459.90" y="61.00" width="1.8" height="23.30" fill="#4cc4ec" opacity="0.48"/>
<rect x="459.90" y="84.30" width="1.8" height="23.30" fill="#4cc4ec" opacity="0.52"/>
<rect x="464.70" y="14.40" width="1.8" height="23.30" fill="#4cc4ec" opacity="0.71"/>
<rect x="464.70" y="37.70" width="1.8" height="23.30" fill="#4cc4ec" opacity="0.37"/>
<rect x="464.70" y="61.00" width="1.8" height="23.30" fill="#4cc4ec" opacity="0.59"/>
<rect x="464.70" y="84.30" width="1.8" height="23.30" fill="#4cc4ec" opacity="0.59"/>
<rect x="480.80" y="14.40" width="1.8" height="23.30" fill="#4cc4ec" opacity="0.15"/>
<rect x="480.80" y="37.70" width="1.8" height="23.30" fill="#4cc4ec" opacity="0.15"/>
<rect x="480.80" y="61.00" width="1.8" height="23.30" fill="#4cc4ec" opacity="0.16"/>
<rect x="480.80" y="84.30" width="1.8" height="23.30" fill="#4cc4ec" opacity="0.52"/>
<rect x="486.15" y="14.40" width="1.5" height="23.30" fill="#4cc4ec" opacity="0.53"/>
<rect x="486.15" y="37.70" width="1.5" height="23.30" fill="#4cc4ec" opacity="0.27"/>
<rect x="486.15" y="61.00" width="1.5" height="23.30" fill="#4cc4ec" opacity="0.44"/>
<rect x="486.15" y="84.30" width="1.5" height="23.30" fill="#4cc4ec" opacity="0.42"/>
<rect x="550.40" y="14.40" width="1.8" height="23.30" fill="#4cc4ec" opacity="0.22"/>
<rect x="550.40" y="37.70" width="1.8" height="23.30" fill="#4cc4ec" opacity="0.68"/>
<rect x="550.40" y="61.00" width="1.8" height="23.30" fill="#4cc4ec" opacity="0.36"/>
<rect x="550.40" y="84.30" width="1.8" height="23.30" fill="#4cc4ec" opacity="0.65"/>
<rect x="335.65" y="14.40" width="1.5" height="23.30" fill="#ad4ea8" opacity="0.49"/>
<rect x="335.65" y="37.70" width="1.5" height="23.30" fill="#ad4ea8" opacity="0.33"/>
<rect x="335.65" y="61.00" width="1.5" height="23.30" fill="#ad4ea8" opacity="0.55"/>
<rect x="335.65" y="84.30" width="1.5" height="23.30" fill="#ad4ea8" opacity="0.61"/>
<rect x="342.15" y="14.40" width="1.5" height="23.30" fill="#ad4ea8" opacity="0.21"/>
<rect x="342.15" y="37.70" width="1.5" height="23.30" fill="#ad4ea8" opacity="0.14"/>
<rect x="342.15" y="61.00" width="1.5" height="23.30" fill="#ad4ea8" opacity="0.17"/>
<rect x="342.15" y="84.30" width="1.5" height="23.30" fill="#ad4ea8" opacity="0.20"/>
<rect x="348.35" y="14.40" width="1.5" height="23.30" fill="#ad4ea8" opacity="0.28"/>
<rect x="348.35" y="37.70" width="1.5" height="23.30" fill="#ad4ea8" opacity="0.13"/>
<rect x="348.35" y="61.00" width="1.5" height="23.30" fill="#ad4ea8" opacity="0.20"/>
<rect x="348.35" y="84.30" width="1.5" height="23.30" fill="#ad4ea8" opacity="0.23"/>
<rect x="367.25" y="14.40" width="1.5" height="23.30" fill="#ad4ea8" opacity="0.37"/>
<rect x="367.25" y="37.70" width="1.5" height="23.30" fill="#ad4ea8" opacity="0.27"/>
<rect x="367.25" y="61.00" width="1.5" height="23.30" fill="#ad4ea8" opacity="0.29"/>
<rect x="367.25" y="84.30" width="1.5" height="23.30" fill="#ad4ea8" opacity="0.42"/>
<rect x="371.85" y="14.40" width="1.5" height="23.30" fill="#ad4ea8" opacity="0.50"/>
<rect x="371.85" y="37.70" width="1.5" height="23.30" fill="#ad4ea8" opacity="0.34"/>
<rect x="371.85" y="61.00" width="1.5" height="23.30" fill="#ad4ea8" opacity="0.42"/>
<rect x="371.85" y="84.30" width="1.5" height="23.30" fill="#ad4ea8" opacity="0.51"/>
<rect x="407.25" y="14.40" width="1.5" height="23.30" fill="#ad4ea8" opacity="0.69"/>
<rect x="407.25" y="37.70" width="1.5" height="23.30" fill="#ad4ea8" opacity="0.39"/>
<rect x="407.25" y="61.00" width="1.5" height="23.30" fill="#ad4ea8" opacity="0.43"/>
<rect x="407.25" y="84.30" width="1.5" height="23.30" fill="#ad4ea8" opacity="0.63"/>
<rect x="426.65" y="14.40" width="1.5" height="23.30" fill="#ad4ea8" opacity="0.22"/>
<rect x="426.65" y="37.70" width="1.5" height="23.30" fill="#ad4ea8" opacity="0.14"/>
<rect x="426.65" y="61.00" width="1.5" height="23.30" fill="#ad4ea8" opacity="0.23"/>
<rect x="426.65" y="84.30" width="1.5" height="23.30" fill="#ad4ea8" opacity="0.25"/>
<rect x="439.75" y="14.40" width="1.5" height="23.30" fill="#ad4ea8" opacity="0.49"/>
<rect x="439.75" y="37.70" width="1.5" height="23.30" fill="#ad4ea8" opacity="0.41"/>
<rect x="439.75" y="61.00" width="1.5" height="23.30" fill="#ad4ea8" opacity="0.42"/>
<rect x="439.75" y="84.30" width="1.5" height="23.30" fill="#ad4ea8" opacity="0.50"/>
<rect x="448.55" y="14.40" width="1.5" height="23.30" fill="#ad4ea8" opacity="0.28"/>
<rect x="448.55" y="37.70" width="1.5" height="23.30" fill="#ad4ea8" opacity="0.14"/>
<rect x="448.55" y="61.00" width="1.5" height="23.30" fill="#ad4ea8" opacity="0.18"/>
<rect x="448.55" y="84.30" width="1.5" height="23.30" fill="#ad4ea8" opacity="0.20"/>
<rect x="467.35" y="14.40" width="1.5" height="23.30" fill="#ad4ea8" opacity="0.35"/>
<rect x="467.35" y="37.70" width="1.5" height="23.30" fill="#ad4ea8" opacity="0.26"/>
<rect x="467.35" y="61.00" width="1.5" height="23.30" fill="#ad4ea8" opacity="0.30"/>
<rect x="467.35" y="84.30" width="1.5" height="23.30" fill="#ad4ea8" opacity="0.41"/>
<rect x="475.75" y="14.40" width="1.5" height="23.30" fill="#ad4ea8" opacity="0.24"/>
<rect x="475.75" y="37.70" width="1.5" height="23.30" fill="#ad4ea8" opacity="0.15"/>
<rect x="475.75" y="61.00" width="1.5" height="23.30" fill="#ad4ea8" opacity="0.23"/>
<rect x="475.75" y="84.30" width="1.5" height="23.30" fill="#ad4ea8" opacity="0.24"/>
<rect x="483.85" y="14.40" width="1.5" height="23.30" fill="#ad4ea8" opacity="0.43"/>
<rect x="483.85" y="37.70" width="1.5" height="23.30" fill="#ad4ea8" opacity="0.28"/>
<rect x="483.85" y="61.00" width="1.5" height="23.30" fill="#ad4ea8" opacity="0.29"/>
<rect x="483.85" y="84.30" width="1.5" height="23.30" fill="#ad4ea8" opacity="0.34"/>
<rect x="547.75" y="14.40" width="1.5" height="23.30" fill="#ad4ea8" opacity="0.29"/>
<rect x="547.75" y="37.70" width="1.5" height="23.30" fill="#ad4ea8" opacity="0.17"/>
<rect x="547.75" y="61.00" width="1.5" height="23.30" fill="#ad4ea8" opacity="0.18"/>
<rect x="547.75" y="84.30" width="1.5" height="23.30" fill="#ad4ea8" opacity="0.21"/>
<rect x="452.75" y="14.40" width="1.5" height="23.30" fill="#ad4ea8" opacity="0.27"/>
<rect x="452.75" y="37.70" width="1.5" height="23.30" fill="#ad4ea8" opacity="0.17"/>
<rect x="452.75" y="61.00" width="1.5" height="23.30" fill="#ad4ea8" opacity="0.18"/>
<rect x="452.75" y="84.30" width="1.5" height="23.30" fill="#ad4ea8" opacity="0.28"/>
<rect x="462.45" y="14.40" width="1.5" height="23.30" fill="#ad4ea8" opacity="0.29"/>
<rect x="462.45" y="37.70" width="1.5" height="23.30" fill="#ad4ea8" opacity="0.16"/>
<rect x="462.45" y="61.00" width="1.5" height="23.30" fill="#ad4ea8" opacity="0.19"/>
<rect x="462.45" y="84.30" width="1.5" height="23.30" fill="#ad4ea8" opacity="0.20"/>
<rect x="353.35" y="14.40" width="2.1" height="23.30" fill="#6fa4e4" opacity="0.48"/>
<rect x="353.35" y="37.70" width="2.1" height="23.30" fill="#6fa4e4" opacity="0.41"/>
<rect x="353.35" y="61.00" width="2.1" height="23.30" fill="#6fa4e4" opacity="0.42"/>
<rect x="353.35" y="84.30" width="2.1" height="23.30" fill="#6fa4e4" opacity="0.59"/>
<rect x="357.45" y="14.40" width="2.1" height="23.30" fill="#6fa4e4" opacity="0.52"/>
<rect x="357.45" y="37.70" width="2.1" height="23.30" fill="#6fa4e4" opacity="0.39"/>
<rect x="357.45" y="61.00" width="2.1" height="23.30" fill="#6fa4e4" opacity="0.48"/>
<rect x="357.45" y="84.30" width="2.1" height="23.30" fill="#6fa4e4" opacity="0.51"/>
<rect x="362.75" y="14.40" width="2.1" height="23.30" fill="#6fa4e4" opacity="0.51"/>
<rect x="362.75" y="37.70" width="2.1" height="23.30" fill="#6fa4e4" opacity="0.38"/>
<rect x="362.75" y="61.00" width="2.1" height="23.30" fill="#6fa4e4" opacity="0.39"/>
<rect x="362.75" y="84.30" width="2.1" height="23.30" fill="#6fa4e4" opacity="0.49"/>
<rect x="380.45" y="14.40" width="2.1" height="23.30" fill="#6fa4e4" opacity="0.59"/>
<rect x="380.45" y="37.70" width="2.1" height="23.30" fill="#6fa4e4" opacity="0.39"/>
<rect x="380.45" y="61.00" width="2.1" height="23.30" fill="#6fa4e4" opacity="0.48"/>
<rect x="380.45" y="84.30" width="2.1" height="23.30" fill="#6fa4e4" opacity="0.50"/>
<rect x="384.45" y="14.40" width="2.1" height="23.30" fill="#6fa4e4" opacity="0.40"/>
<rect x="384.45" y="37.70" width="2.1" height="23.30" fill="#6fa4e4" opacity="0.18"/>
<rect x="384.45" y="61.00" width="2.1" height="23.30" fill="#6fa4e4" opacity="0.23"/>
<rect x="384.45" y="84.30" width="2.1" height="23.30" fill="#6fa4e4" opacity="0.30"/>
<rect x="388.95" y="14.40" width="2.1" height="23.30" fill="#6fa4e4" opacity="0.34"/>
<rect x="388.95" y="37.70" width="2.1" height="23.30" fill="#6fa4e4" opacity="0.17"/>
<rect x="388.95" y="61.00" width="2.1" height="23.30" fill="#6fa4e4" opacity="0.24"/>
<rect x="388.95" y="84.30" width="2.1" height="23.30" fill="#6fa4e4" opacity="0.31"/>
<rect x="393.95" y="14.40" width="2.1" height="23.30" fill="#6fa4e4" opacity="0.36"/>
<rect x="393.95" y="37.70" width="2.1" height="23.30" fill="#6fa4e4" opacity="0.18"/>
<rect x="393.95" y="61.00" width="2.1" height="23.30" fill="#6fa4e4" opacity="0.26"/>
<rect x="393.95" y="84.30" width="2.1" height="23.30" fill="#6fa4e4" opacity="0.38"/>
<rect x="399.45" y="14.40" width="2.1" height="23.30" fill="#6fa4e4" opacity="0.41"/>
<rect x="399.45" y="37.70" width="2.1" height="23.30" fill="#6fa4e4" opacity="0.22"/>
<rect x="399.45" y="61.00" width="2.1" height="23.30" fill="#6fa4e4" opacity="0.30"/>
<rect x="399.45" y="84.30" width="2.1" height="23.30" fill="#6fa4e4" opacity="0.34"/>
<rect x="410.75" y="14.40" width="2.1" height="23.30" fill="#6fa4e4" opacity="0.50"/>
<rect x="410.75" y="37.70" width="2.1" height="23.30" fill="#6fa4e4" opacity="0.29"/>
<rect x="410.75" y="61.00" width="2.1" height="23.30" fill="#6fa4e4" opacity="0.38"/>
<rect x="410.75" y="84.30" width="2.1" height="23.30" fill="#6fa4e4" opacity="0.63"/>
<rect x="413.95" y="14.40" width="2.1" height="23.30" fill="#6fa4e4" opacity="0.62"/>
<rect x="413.95" y="37.70" width="2.1" height="23.30" fill="#6fa4e4" opacity="0.41"/>
<rect x="413.95" y="61.00" width="2.1" height="23.30" fill="#6fa4e4" opacity="0.38"/>
<rect x="413.95" y="84.30" width="2.1" height="23.30" fill="#6fa4e4" opacity="0.58"/>
<rect x="423.25" y="14.40" width="2.1" height="23.30" fill="#6fa4e4" opacity="0.57"/>
<rect x="423.25" y="37.70" width="2.1" height="23.30" fill="#6fa4e4" opacity="0.38"/>
<rect x="423.25" y="61.00" width="2.1" height="23.30" fill="#6fa4e4" opacity="0.43"/>
<rect x="423.25" y="84.30" width="2.1" height="23.30" fill="#6fa4e4" opacity="0.65"/>
<rect x="428.45" y="14.40" width="2.1" height="23.30" fill="#6fa4e4" opacity="0.49"/>
<rect x="428.45" y="37.70" width="2.1" height="23.30" fill="#6fa4e4" opacity="0.35"/>
<rect x="428.45" y="61.00" width="2.1" height="23.30" fill="#6fa4e4" opacity="0.50"/>
<rect x="428.45" y="84.30" width="2.1" height="23.30" fill="#6fa4e4" opacity="0.63"/>
<rect x="431.95" y="14.40" width="2.1" height="23.30" fill="#6fa4e4" opacity="0.38"/>
<rect x="431.95" y="37.70" width="2.1" height="23.30" fill="#6fa4e4" opacity="0.22"/>
<rect x="431.95" y="61.00" width="2.1" height="23.30" fill="#6fa4e4" opacity="0.31"/>
<rect x="431.95" y="84.30" width="2.1" height="23.30" fill="#6fa4e4" opacity="0.38"/>
<rect x="445.15" y="14.40" width="2.1" height="23.30" fill="#6fa4e4" opacity="0.55"/>
<rect x="445.15" y="37.70" width="2.1" height="23.30" fill="#6fa4e4" opacity="0.37"/>
<rect x="445.15" y="61.00" width="2.1" height="23.30" fill="#6fa4e4" opacity="0.53"/>
<rect x="445.15" y="84.30" width="2.1" height="23.30" fill="#6fa4e4" opacity="0.63"/>
<rect x="472.25" y="14.40" width="2.1" height="23.30" fill="#6fa4e4" opacity="0.56"/>
<rect x="472.25" y="37.70" width="2.1" height="23.30" fill="#6fa4e4" opacity="0.39"/>
<rect x="472.25" y="61.00" width="2.1" height="23.30" fill="#6fa4e4" opacity="0.53"/>
<rect x="472.25" y="84.30" width="2.1" height="23.30" fill="#6fa4e4" opacity="0.56"/>
<rect x="477.45" y="14.40" width="2.1" height="23.30" fill="#6fa4e4" opacity="0.61"/>
<rect x="477.45" y="37.70" width="2.1" height="23.30" fill="#6fa4e4" opacity="0.33"/>
<rect x="477.45" y="61.00" width="2.1" height="23.30" fill="#6fa4e4" opacity="0.48"/>
<rect x="477.45" y="84.30" width="2.1" height="23.30" fill="#6fa4e4" opacity="0.57"/>
<rect x="488.95" y="14.40" width="2.1" height="23.30" fill="#6fa4e4" opacity="0.49"/>
<rect x="488.95" y="37.70" width="2.1" height="23.30" fill="#6fa4e4" opacity="0.37"/>
<rect x="488.95" y="61.00" width="2.1" height="23.30" fill="#6fa4e4" opacity="0.55"/>
<rect x="488.95" y="84.30" width="2.1" height="23.30" fill="#6fa4e4" opacity="0.63"/>
<rect x="492.15" y="14.40" width="2.1" height="23.30" fill="#6fa4e4" opacity="0.38"/>
<rect x="492.15" y="37.70" width="2.1" height="23.30" fill="#6fa4e4" opacity="0.20"/>
<rect x="492.15" y="61.00" width="2.1" height="23.30" fill="#6fa4e4" opacity="0.30"/>
<rect x="492.15" y="84.30" width="2.1" height="23.30" fill="#6fa4e4" opacity="0.34"/>
<rect x="495.95" y="14.40" width="2.1" height="23.30" fill="#6fa4e4" opacity="0.34"/>
<rect x="495.95" y="37.70" width="2.1" height="23.30" fill="#6fa4e4" opacity="0.23"/>
<rect x="495.95" y="61.00" width="2.1" height="23.30" fill="#6fa4e4" opacity="0.23"/>
<rect x="495.95" y="84.30" width="2.1" height="23.30" fill="#6fa4e4" opacity="0.36"/>
<rect x="499.95" y="14.40" width="2.1" height="23.30" fill="#6fa4e4" opacity="0.29"/>
<rect x="499.95" y="37.70" width="2.1" height="23.30" fill="#6fa4e4" opacity="0.22"/>
<rect x="499.95" y="61.00" width="2.1" height="23.30" fill="#6fa4e4" opacity="0.28"/>
<rect x="499.95" y="84.30" width="2.1" height="23.30" fill="#6fa4e4" opacity="0.30"/>
<rect x="504.45" y="14.40" width="2.1" height="23.30" fill="#6fa4e4" opacity="0.37"/>
<rect x="504.45" y="37.70" width="2.1" height="23.30" fill="#6fa4e4" opacity="0.21"/>
<rect x="504.45" y="61.00" width="2.1" height="23.30" fill="#6fa4e4" opacity="0.29"/>
<rect x="504.45" y="84.30" width="2.1" height="23.30" fill="#6fa4e4" opacity="0.38"/>
<rect x="508.95" y="14.40" width="2.1" height="23.30" fill="#6fa4e4" opacity="0.31"/>
<rect x="508.95" y="37.70" width="2.1" height="23.30" fill="#6fa4e4" opacity="0.17"/>
<rect x="508.95" y="61.00" width="2.1" height="23.30" fill="#6fa4e4" opacity="0.26"/>
<rect x="508.95" y="84.30" width="2.1" height="23.30" fill="#6fa4e4" opacity="0.35"/>
<rect x="320.95" y="14.40" width="2.1" height="23.30" fill="#6fa4e4" opacity="0.12"/>
<rect x="320.95" y="61.00" width="2.1" height="23.30" fill="#6fa4e4" opacity="0.13"/>
<rect x="320.95" y="84.30" width="2.1" height="23.30" fill="#6fa4e4" opacity="0.14"/>
<rect x="325.95" y="14.40" width="2.1" height="23.30" fill="#6fa4e4" opacity="0.14"/>
<rect x="325.95" y="37.70" width="2.1" height="23.30" fill="#6fa4e4" opacity="0.10"/>
<rect x="325.95" y="61.00" width="2.1" height="23.30" fill="#6fa4e4" opacity="0.10"/>
<rect x="325.95" y="84.30" width="2.1" height="23.30" fill="#6fa4e4" opacity="0.14"/>
<rect x="314.95" y="14.40" width="2.1" height="23.30" fill="#6fa4e4" opacity="0.12"/>
<rect x="314.95" y="37.70" width="2.1" height="23.30" fill="#6fa4e4" opacity="0.08"/>
<rect x="314.95" y="61.00" width="2.1" height="23.30" fill="#6fa4e4" opacity="0.12"/>
<rect x="314.95" y="84.30" width="2.1" height="23.30" fill="#6fa4e4" opacity="0.15"/>
<rect x="309.95" y="14.40" width="2.1" height="23.30" fill="#6fa4e4" opacity="0.16"/>
<rect x="309.95" y="61.00" width="2.1" height="23.30" fill="#6fa4e4" opacity="0.11"/>
<rect x="309.95" y="84.30" width="2.1" height="23.30" fill="#6fa4e4" opacity="0.12"/>
<rect x="516.95" y="14.40" width="2.1" height="23.30" fill="#6fa4e4" opacity="0.12"/>
<rect x="516.95" y="37.70" width="2.1" height="23.30" fill="#6fa4e4" opacity="0.08"/>
<rect x="516.95" y="61.00" width="2.1" height="23.30" fill="#6fa4e4" opacity="0.13"/>
<rect x="516.95" y="84.30" width="2.1" height="23.30" fill="#6fa4e4" opacity="0.15"/>
<rect x="525.95" y="14.40" width="2.1" height="23.30" fill="#6fa4e4" opacity="0.15"/>
<rect x="525.95" y="37.70" width="2.1" height="23.30" fill="#6fa4e4" opacity="0.10"/>
<rect x="525.95" y="61.00" width="2.1" height="23.30" fill="#6fa4e4" opacity="0.10"/>
<rect x="525.95" y="84.30" width="2.1" height="23.30" fill="#6fa4e4" opacity="0.12"/>
<rect x="534.95" y="14.40" width="2.1" height="23.30" fill="#6fa4e4" opacity="0.14"/>
<rect x="534.95" y="61.00" width="2.1" height="23.30" fill="#6fa4e4" opacity="0.10"/>
<rect x="534.95" y="84.30" width="2.1" height="23.30" fill="#6fa4e4" opacity="0.13"/>
<rect x="541.95" y="14.40" width="2.1" height="23.30" fill="#6fa4e4" opacity="0.15"/>
<rect x="541.95" y="37.70" width="2.1" height="23.30" fill="#6fa4e4" opacity="0.08"/>
<rect x="541.95" y="61.00" width="2.1" height="23.30" fill="#6fa4e4" opacity="0.10"/>
<rect x="541.95" y="84.30" width="2.1" height="23.30" fill="#6fa4e4" opacity="0.15"/>
<rect x="553.45" y="14.40" width="2.1" height="23.30" fill="#6fa4e4" opacity="0.68"/>
<rect x="553.45" y="37.70" width="2.1" height="23.30" fill="#6fa4e4" opacity="0.34"/>
<rect x="553.45" y="61.00" width="2.1" height="23.30" fill="#6fa4e4" opacity="0.39"/>
<rect x="553.45" y="84.30" width="2.1" height="23.30" fill="#6fa4e4" opacity="0.45"/>
<rect x="555.75" y="14.40" width="2.1" height="23.30" fill="#6fa4e4" opacity="0.40"/>
<rect x="555.75" y="37.70" width="2.1" height="23.30" fill="#6fa4e4" opacity="0.17"/>
<rect x="555.75" y="61.00" width="2.1" height="23.30" fill="#6fa4e4" opacity="0.30"/>
<rect x="555.75" y="84.30" width="2.1" height="23.30" fill="#6fa4e4" opacity="0.34"/>
<rect x="351.25" y="14.40" width="1.5" height="23.30" fill="#6c5fb0" opacity="0.26"/>
<rect x="351.25" y="37.70" width="1.5" height="23.30" fill="#6c5fb0" opacity="0.18"/>
<rect x="351.25" y="61.00" width="1.5" height="23.30" fill="#6c5fb0" opacity="0.18"/>
<rect x="351.25" y="84.30" width="1.5" height="23.30" fill="#6c5fb0" opacity="0.23"/>
<rect x="360.25" y="14.40" width="1.5" height="23.30" fill="#6c5fb0" opacity="0.27"/>
<rect x="360.25" y="37.70" width="1.5" height="23.30" fill="#6c5fb0" opacity="0.14"/>
<rect x="360.25" y="61.00" width="1.5" height="23.30" fill="#6c5fb0" opacity="0.25"/>
<rect x="360.25" y="84.30" width="1.5" height="23.30" fill="#6c5fb0" opacity="0.24"/>
<rect x="378.75" y="14.40" width="1.5" height="23.30" fill="#6c5fb0" opacity="0.24"/>
<rect x="378.75" y="37.70" width="1.5" height="23.30" fill="#6c5fb0" opacity="0.14"/>
<rect x="378.75" y="61.00" width="1.5" height="23.30" fill="#6c5fb0" opacity="0.23"/>
<rect x="378.75" y="84.30" width="1.5" height="23.30" fill="#6c5fb0" opacity="0.26"/>
<rect x="387.25" y="14.40" width="1.5" height="23.30" fill="#6c5fb0" opacity="0.29"/>
<rect x="387.25" y="37.70" width="1.5" height="23.30" fill="#6c5fb0" opacity="0.18"/>
<rect x="387.25" y="61.00" width="1.5" height="23.30" fill="#6c5fb0" opacity="0.25"/>
<rect x="387.25" y="84.30" width="1.5" height="23.30" fill="#6c5fb0" opacity="0.31"/>
<rect x="421.25" y="14.40" width="1.5" height="23.30" fill="#6c5fb0" opacity="0.30"/>
<rect x="421.25" y="37.70" width="1.5" height="23.30" fill="#6c5fb0" opacity="0.15"/>
<rect x="421.25" y="61.00" width="1.5" height="23.30" fill="#6c5fb0" opacity="0.22"/>
<rect x="421.25" y="84.30" width="1.5" height="23.30" fill="#6c5fb0" opacity="0.23"/>
<rect x="430.75" y="14.40" width="1.5" height="23.30" fill="#6c5fb0" opacity="0.23"/>
<rect x="430.75" y="37.70" width="1.5" height="23.30" fill="#6c5fb0" opacity="0.16"/>
<rect x="430.75" y="61.00" width="1.5" height="23.30" fill="#6c5fb0" opacity="0.24"/>
<rect x="430.75" y="84.30" width="1.5" height="23.30" fill="#6c5fb0" opacity="0.23"/>
<rect x="443.25" y="14.40" width="1.5" height="23.30" fill="#6c5fb0" opacity="0.25"/>
<rect x="443.25" y="37.70" width="1.5" height="23.30" fill="#6c5fb0" opacity="0.16"/>
<rect x="443.25" y="61.00" width="1.5" height="23.30" fill="#6c5fb0" opacity="0.24"/>
<rect x="443.25" y="84.30" width="1.5" height="23.30" fill="#6c5fb0" opacity="0.27"/>
<rect x="457.25" y="14.40" width="1.5" height="23.30" fill="#6c5fb0" opacity="0.29"/>
<rect x="457.25" y="37.70" width="1.5" height="23.30" fill="#6c5fb0" opacity="0.18"/>
<rect x="457.25" y="61.00" width="1.5" height="23.30" fill="#6c5fb0" opacity="0.21"/>
<rect x="457.25" y="84.30" width="1.5" height="23.30" fill="#6c5fb0" opacity="0.29"/>
<rect x="470.25" y="14.40" width="1.5" height="23.30" fill="#6c5fb0" opacity="0.32"/>
<rect x="470.25" y="37.70" width="1.5" height="23.30" fill="#6c5fb0" opacity="0.14"/>
<rect x="470.25" y="61.00" width="1.5" height="23.30" fill="#6c5fb0" opacity="0.26"/>
<rect x="470.25" y="84.30" width="1.5" height="23.30" fill="#6c5fb0" opacity="0.29"/>
<rect x="488.05" y="14.40" width="1.5" height="23.30" fill="#6c5fb0" opacity="0.24"/>
<rect x="488.05" y="37.70" width="1.5" height="23.30" fill="#6c5fb0" opacity="0.16"/>
<rect x="488.05" y="61.00" width="1.5" height="23.30" fill="#6c5fb0" opacity="0.23"/>
<rect x="488.05" y="84.30" width="1.5" height="23.30" fill="#6c5fb0" opacity="0.30"/>
</g>
<rect x="299.4" y="124.2" width="260.3" height="92.2" fill="#787bbd"/>
<g filter="url(#bl)" clip-path="url(#cp29)">
<rect x="324.20" y="124.20" width="1.8" height="23.05" fill="#4cc4ec" opacity="0.89"/>
<rect x="324.20" y="147.25" width="1.8" height="23.05" fill="#4cc4ec" opacity="0.46"/>
<rect x="324.20" y="170.30" width="1.8" height="23.05" fill="#4cc4ec" opacity="0.79"/>
<rect x="324.20" y="193.35" width="1.8" height="23.05" fill="#4cc4ec" opacity="0.77"/>
<rect x="328.80" y="124.20" width="1.8" height="23.05" fill="#4cc4ec" opacity="0.65"/>
<rect x="328.80" y="147.25" width="1.8" height="23.05" fill="#4cc4ec" opacity="0.34"/>
<rect x="328.80" y="170.30" width="1.8" height="23.05" fill="#4cc4ec" opacity="0.50"/>
<rect x="328.80" y="193.35" width="1.8" height="23.05" fill="#4cc4ec" opacity="0.73"/>
<rect x="344.70" y="124.20" width="1.8" height="23.05" fill="#4cc4ec" opacity="0.75"/>
<rect x="344.70" y="147.25" width="1.8" height="23.05" fill="#4cc4ec" opacity="0.47"/>
<rect x="344.70" y="170.30" width="1.8" height="23.05" fill="#4cc4ec" opacity="0.63"/>
<rect x="344.70" y="193.35" width="1.8" height="23.05" fill="#4cc4ec" opacity="0.79"/>
<rect x="349.45" y="124.20" width="1.5" height="23.05" fill="#4cc4ec" opacity="0.55"/>
<rect x="349.45" y="147.25" width="1.5" height="23.05" fill="#4cc4ec" opacity="0.24"/>
<rect x="349.45" y="170.30" width="1.5" height="23.05" fill="#4cc4ec" opacity="0.39"/>
<rect x="349.45" y="193.35" width="1.5" height="23.05" fill="#4cc4ec" opacity="0.43"/>
<rect x="353.90" y="124.20" width="1.8" height="23.05" fill="#4cc4ec" opacity="0.70"/>
<rect x="353.90" y="147.25" width="1.8" height="23.05" fill="#4cc4ec" opacity="0.35"/>
<rect x="353.90" y="170.30" width="1.8" height="23.05" fill="#4cc4ec" opacity="0.45"/>
<rect x="353.90" y="193.35" width="1.8" height="23.05" fill="#4cc4ec" opacity="0.60"/>
<rect x="373.90" y="124.20" width="1.8" height="23.05" fill="#4cc4ec" opacity="0.62"/>
<rect x="373.90" y="147.25" width="1.8" height="23.05" fill="#4cc4ec" opacity="0.40"/>
<rect x="373.90" y="170.30" width="1.8" height="23.05" fill="#4cc4ec" opacity="0.53"/>
<rect x="373.90" y="193.35" width="1.8" height="23.05" fill="#4cc4ec" opacity="0.54"/>
<rect x="394.20" y="124.20" width="1.8" height="23.05" fill="#4cc4ec" opacity="0.94"/>
<rect x="394.20" y="147.25" width="1.8" height="23.05" fill="#4cc4ec" opacity="0.45"/>
<rect x="394.20" y="170.30" width="1.8" height="23.05" fill="#4cc4ec" opacity="0.71"/>
<rect x="394.20" y="193.35" width="1.8" height="23.05" fill="#4cc4ec" opacity="0.75"/>
<rect x="399.00" y="124.20" width="1.8" height="23.05" fill="#4cc4ec" opacity="0.63"/>
<rect x="399.00" y="147.25" width="1.8" height="23.05" fill="#4cc4ec" opacity="0.39"/>
<rect x="399.00" y="170.30" width="1.8" height="23.05" fill="#4cc4ec" opacity="0.52"/>
<rect x="399.00" y="193.35" width="1.8" height="23.05" fill="#4cc4ec" opacity="0.67"/>
<rect x="406.85" y="124.20" width="1.5" height="23.05" fill="#4cc4ec" opacity="0.51"/>
<rect x="406.85" y="147.25" width="1.5" height="23.05" fill="#4cc4ec" opacity="0.26"/>
<rect x="406.85" y="170.30" width="1.5" height="23.05" fill="#4cc4ec" opacity="0.39"/>
<rect x="406.85" y="193.35" width="1.5" height="23.05" fill="#4cc4ec" opacity="0.42"/>
<rect x="413.60" y="124.20" width="1.8" height="23.05" fill="#4cc4ec" opacity="0.68"/>
<rect x="413.60" y="147.25" width="1.8" height="23.05" fill="#4cc4ec" opacity="0.39"/>
<rect x="413.60" y="170.30" width="1.8" height="23.05" fill="#4cc4ec" opacity="0.44"/>
<rect x="413.60" y="193.35" width="1.8" height="23.05" fill="#4cc4ec" opacity="0.72"/>
<rect x="418.10" y="124.20" width="1.8" height="23.05" fill="#4cc4ec" opacity="0.61"/>
<rect x="418.10" y="147.25" width="1.8" height="23.05" fill="#4cc4ec" opacity="0.31"/>
<rect x="418.10" y="170.30" width="1.8" height="23.05" fill="#4cc4ec" opacity="0.45"/>
<rect x="418.10" y="193.35" width="1.8" height="23.05" fill="#4cc4ec" opacity="0.58"/>
<rect x="423.40" y="124.20" width="1.8" height="23.05" fill="#4cc4ec" opacity="0.54"/>
<rect x="423.40" y="147.25" width="1.8" height="23.05" fill="#4cc4ec" opacity="0.34"/>
<rect x="423.40" y="170.30" width="1.8" height="23.05" fill="#4cc4ec" opacity="0.50"/>
<rect x="423.40" y="193.35" width="1.8" height="23.05" fill="#4cc4ec" opacity="0.65"/>
<rect x="440.10" y="170.30" width="1.8" height="23.05" fill="#4cc4ec" opacity="0.14"/>
<rect x="440.10" y="193.35" width="1.8" height="23.05" fill="#4cc4ec" opacity="0.60"/>
<rect x="445.30" y="170.30" width="1.8" height="23.05" fill="#4cc4ec" opacity="0.15"/>
<rect x="445.30" y="193.35" width="1.8" height="23.05" fill="#4cc4ec" opacity="0.70"/>
<rect x="453.60" y="124.20" width="1.8" height="23.05" fill="#4cc4ec" opacity="0.21"/>
<rect x="453.60" y="147.25" width="1.8" height="23.05" fill="#4cc4ec" opacity="0.70"/>
<rect x="453.60" y="170.30" width="1.8" height="23.05" fill="#4cc4ec" opacity="0.40"/>
<rect x="453.60" y="193.35" width="1.8" height="23.05" fill="#4cc4ec" opacity="1.00"/>
<rect x="491.20" y="124.20" width="1.8" height="23.05" fill="#4cc4ec" opacity="0.11"/>
<rect x="491.20" y="147.25" width="1.8" height="23.05" fill="#4cc4ec" opacity="0.15"/>
<rect x="491.20" y="170.30" width="1.8" height="23.05" fill="#4cc4ec" opacity="0.22"/>
<rect x="491.20" y="193.35" width="1.8" height="23.05" fill="#4cc4ec" opacity="0.56"/>
<rect x="497.50" y="124.20" width="1.8" height="23.05" fill="#4cc4ec" opacity="0.17"/>
<rect x="497.50" y="147.25" width="1.8" height="23.05" fill="#4cc4ec" opacity="0.15"/>
<rect x="497.50" y="170.30" width="1.8" height="23.05" fill="#4cc4ec" opacity="0.23"/>
<rect x="497.50" y="193.35" width="1.8" height="23.05" fill="#4cc4ec" opacity="0.74"/>
<rect x="536.50" y="124.20" width="1.8" height="23.05" fill="#4cc4ec" opacity="0.14"/>
<rect x="536.50" y="147.25" width="1.8" height="23.05" fill="#4cc4ec" opacity="0.71"/>
<rect x="536.50" y="170.30" width="1.8" height="23.05" fill="#4cc4ec" opacity="0.48"/>
<rect x="536.50" y="193.35" width="1.8" height="23.05" fill="#4cc4ec" opacity="0.53"/>
<rect x="544.05" y="124.20" width="1.5" height="23.05" fill="#4cc4ec" opacity="0.10"/>
<rect x="544.05" y="147.25" width="1.5" height="23.05" fill="#4cc4ec" opacity="0.53"/>
<rect x="544.05" y="170.30" width="1.5" height="23.05" fill="#4cc4ec" opacity="0.43"/>
<rect x="544.05" y="193.35" width="1.5" height="23.05" fill="#4cc4ec" opacity="0.47"/>
<rect x="321.85" y="124.20" width="1.5" height="23.05" fill="#ad4ea8" opacity="0.47"/>
<rect x="321.85" y="147.25" width="1.5" height="23.05" fill="#ad4ea8" opacity="0.28"/>
<rect x="321.85" y="170.30" width="1.5" height="23.05" fill="#ad4ea8" opacity="0.46"/>
<rect x="321.85" y="193.35" width="1.5" height="23.05" fill="#ad4ea8" opacity="0.50"/>
<rect x="331.65" y="124.20" width="1.5" height="23.05" fill="#ad4ea8" opacity="0.21"/>
<rect x="331.65" y="147.25" width="1.5" height="23.05" fill="#ad4ea8" opacity="0.12"/>
<rect x="331.65" y="170.30" width="1.5" height="23.05" fill="#ad4ea8" opacity="0.20"/>
<rect x="331.65" y="193.35" width="1.5" height="23.05" fill="#ad4ea8" opacity="0.20"/>
<rect x="342.15" y="124.20" width="1.5" height="23.05" fill="#ad4ea8" opacity="0.50"/>
<rect x="342.15" y="147.25" width="1.5" height="23.05" fill="#ad4ea8" opacity="0.28"/>
<rect x="342.15" y="170.30" width="1.5" height="23.05" fill="#ad4ea8" opacity="0.38"/>
<rect x="342.15" y="193.35" width="1.5" height="23.05" fill="#ad4ea8" opacity="0.61"/>
<rect x="347.35" y="124.20" width="1.5" height="23.05" fill="#ad4ea8" opacity="0.47"/>
<rect x="347.35" y="147.25" width="1.5" height="23.05" fill="#ad4ea8" opacity="0.20"/>
<rect x="347.35" y="170.30" width="1.5" height="23.05" fill="#ad4ea8" opacity="0.35"/>
<rect x="347.35" y="193.35" width="1.5" height="23.05" fill="#ad4ea8" opacity="0.45"/>
<rect x="351.85" y="124.20" width="1.5" height="23.05" fill="#ad4ea8" opacity="0.38"/>
<rect x="351.85" y="147.25" width="1.5" height="23.05" fill="#ad4ea8" opacity="0.21"/>
<rect x="351.85" y="170.30" width="1.5" height="23.05" fill="#ad4ea8" opacity="0.38"/>
<rect x="351.85" y="193.35" width="1.5" height="23.05" fill="#ad4ea8" opacity="0.43"/>
<rect x="355.95" y="124.20" width="1.5" height="23.05" fill="#ad4ea8" opacity="0.44"/>
<rect x="355.95" y="147.25" width="1.5" height="23.05" fill="#ad4ea8" opacity="0.25"/>
<rect x="355.95" y="170.30" width="1.5" height="23.05" fill="#ad4ea8" opacity="0.34"/>
<rect x="355.95" y="193.35" width="1.5" height="23.05" fill="#ad4ea8" opacity="0.37"/>
<rect x="360.95" y="124.20" width="1.5" height="23.05" fill="#ad4ea8" opacity="0.27"/>
<rect x="360.95" y="147.25" width="1.5" height="23.05" fill="#ad4ea8" opacity="0.15"/>
<rect x="360.95" y="170.30" width="1.5" height="23.05" fill="#ad4ea8" opacity="0.17"/>
<rect x="360.95" y="193.35" width="1.5" height="23.05" fill="#ad4ea8" opacity="0.22"/>
<rect x="369.25" y="124.20" width="1.5" height="23.05" fill="#ad4ea8" opacity="0.23"/>
<rect x="369.25" y="147.25" width="1.5" height="23.05" fill="#ad4ea8" opacity="0.16"/>
<rect x="369.25" y="170.30" width="1.5" height="23.05" fill="#ad4ea8" opacity="0.18"/>
<rect x="369.25" y="193.35" width="1.5" height="23.05" fill="#ad4ea8" opacity="0.25"/>
<rect x="376.55" y="124.20" width="1.5" height="23.05" fill="#ad4ea8" opacity="0.41"/>
<rect x="376.55" y="147.25" width="1.5" height="23.05" fill="#ad4ea8" opacity="0.22"/>
<rect x="376.55" y="170.30" width="1.5" height="23.05" fill="#ad4ea8" opacity="0.33"/>
<rect x="376.55" y="193.35" width="1.5" height="23.05" fill="#ad4ea8" opacity="0.45"/>
<rect x="396.85" y="124.20" width="1.5" height="23.05" fill="#ad4ea8" opacity="0.62"/>
<rect x="396.85" y="147.25" width="1.5" height="23.05" fill="#ad4ea8" opacity="0.31"/>
<rect x="396.85" y="170.30" width="1.5" height="23.05" fill="#ad4ea8" opacity="0.40"/>
<rect x="396.85" y="193.35" width="1.5" height="23.05" fill="#ad4ea8" opacity="0.52"/>
<rect x="416.25" y="124.20" width="1.5" height="23.05" fill="#ad4ea8" opacity="0.58"/>
<rect x="416.25" y="147.25" width="1.5" height="23.05" fill="#ad4ea8" opacity="0.34"/>
<rect x="416.25" y="170.30" width="1.5" height="23.05" fill="#ad4ea8" opacity="0.55"/>
<rect x="416.25" y="193.35" width="1.5" height="23.05" fill="#ad4ea8" opacity="0.52"/>
<rect x="420.95" y="124.20" width="1.5" height="23.05" fill="#ad4ea8" opacity="0.68"/>
<rect x="420.95" y="147.25" width="1.5" height="23.05" fill="#ad4ea8" opacity="0.37"/>
<rect x="420.95" y="170.30" width="1.5" height="23.05" fill="#ad4ea8" opacity="0.46"/>
<rect x="420.95" y="193.35" width="1.5" height="23.05" fill="#ad4ea8" opacity="0.50"/>
<rect x="443.25" y="124.20" width="1.5" height="23.05" fill="#ad4ea8" opacity="0.22"/>
<rect x="443.25" y="147.25" width="1.5" height="23.05" fill="#ad4ea8" opacity="0.16"/>
<rect x="443.25" y="170.30" width="1.5" height="23.05" fill="#ad4ea8" opacity="0.18"/>
<rect x="443.25" y="193.35" width="1.5" height="23.05" fill="#ad4ea8" opacity="0.25"/>
<rect x="451.65" y="124.20" width="1.5" height="23.05" fill="#ad4ea8" opacity="0.44"/>
<rect x="451.65" y="147.25" width="1.5" height="23.05" fill="#ad4ea8" opacity="0.20"/>
<rect x="451.65" y="170.30" width="1.5" height="23.05" fill="#ad4ea8" opacity="0.27"/>
<rect x="451.65" y="193.35" width="1.5" height="23.05" fill="#ad4ea8" opacity="0.42"/>
<rect x="456.25" y="124.20" width="1.5" height="23.05" fill="#ad4ea8" opacity="0.35"/>
<rect x="456.25" y="147.25" width="1.5" height="23.05" fill="#ad4ea8" opacity="0.23"/>
<rect x="456.25" y="170.30" width="1.5" height="23.05" fill="#ad4ea8" opacity="0.39"/>
<rect x="456.25" y="193.35" width="1.5" height="23.05" fill="#ad4ea8" opacity="0.39"/>
<rect x="485.15" y="124.20" width="1.5" height="23.05" fill="#ad4ea8" opacity="0.54"/>
<rect x="485.15" y="147.25" width="1.5" height="23.05" fill="#ad4ea8" opacity="0.27"/>
<rect x="485.15" y="170.30" width="1.5" height="23.05" fill="#ad4ea8" opacity="0.43"/>
<rect x="485.15" y="193.35" width="1.5" height="23.05" fill="#ad4ea8" opacity="0.52"/>
<rect x="489.25" y="124.20" width="1.5" height="23.05" fill="#ad4ea8" opacity="0.36"/>
<rect x="489.25" y="147.25" width="1.5" height="23.05" fill="#ad4ea8" opacity="0.25"/>
<rect x="489.25" y="170.30" width="1.5" height="23.05" fill="#ad4ea8" opacity="0.35"/>
<rect x="489.25" y="193.35" width="1.5" height="23.05" fill="#ad4ea8" opacity="0.43"/>
<rect x="495.75" y="124.20" width="1.5" height="23.05" fill="#ad4ea8" opacity="0.35"/>
<rect x="495.75" y="147.25" width="1.5" height="23.05" fill="#ad4ea8" opacity="0.21"/>
<rect x="495.75" y="170.30" width="1.5" height="23.05" fill="#ad4ea8" opacity="0.39"/>
<rect x="495.75" y="193.35" width="1.5" height="23.05" fill="#ad4ea8" opacity="0.32"/>
<rect x="539.85" y="124.20" width="1.5" height="23.05" fill="#ad4ea8" opacity="0.40"/>
<rect x="539.85" y="147.25" width="1.5" height="23.05" fill="#ad4ea8" opacity="0.26"/>
<rect x="539.85" y="170.30" width="1.5" height="23.05" fill="#ad4ea8" opacity="0.30"/>
<rect x="539.85" y="193.35" width="1.5" height="23.05" fill="#ad4ea8" opacity="0.35"/>
<rect x="552.25" y="124.20" width="1.5" height="23.05" fill="#ad4ea8" opacity="0.26"/>
<rect x="552.25" y="147.25" width="1.5" height="23.05" fill="#ad4ea8" opacity="0.12"/>
<rect x="552.25" y="170.30" width="1.5" height="23.05" fill="#ad4ea8" opacity="0.19"/>
<rect x="552.25" y="193.35" width="1.5" height="23.05" fill="#ad4ea8" opacity="0.23"/>
<rect x="401.55" y="124.20" width="1.5" height="23.05" fill="#ad4ea8" opacity="0.23"/>
<rect x="401.55" y="147.25" width="1.5" height="23.05" fill="#ad4ea8" opacity="0.15"/>
<rect x="401.55" y="170.30" width="1.5" height="23.05" fill="#ad4ea8" opacity="0.22"/>
<rect x="401.55" y="193.35" width="1.5" height="23.05" fill="#ad4ea8" opacity="0.26"/>
<rect x="318.85" y="124.20" width="2.1" height="23.05" fill="#6fa4e4" opacity="0.68"/>
<rect x="318.85" y="147.25" width="2.1" height="23.05" fill="#6fa4e4" opacity="0.27"/>
<rect x="318.85" y="170.30" width="2.1" height="23.05" fill="#6fa4e4" opacity="0.42"/>
<rect x="318.85" y="193.35" width="2.1" height="23.05" fill="#6fa4e4" opacity="0.65"/>
<rect x="335.55" y="124.20" width="2.1" height="23.05" fill="#6fa4e4" opacity="0.64"/>
<rect x="335.55" y="147.25" width="2.1" height="23.05" fill="#6fa4e4" opacity="0.35"/>
<rect x="335.55" y="170.30" width="2.1" height="23.05" fill="#6fa4e4" opacity="0.41"/>
<rect x="335.55" y="193.35" width="2.1" height="23.05" fill="#6fa4e4" opacity="0.47"/>
<rect x="338.45" y="124.20" width="2.1" height="23.05" fill="#6fa4e4" opacity="0.32"/>
<rect x="338.45" y="147.25" width="2.1" height="23.05" fill="#6fa4e4" opacity="0.22"/>
<rect x="338.45" y="170.30" width="2.1" height="23.05" fill="#6fa4e4" opacity="0.30"/>
<rect x="338.45" y="193.35" width="2.1" height="23.05" fill="#6fa4e4" opacity="0.31"/>
<rect x="357.45" y="124.20" width="2.1" height="23.05" fill="#6fa4e4" opacity="0.61"/>
<rect x="357.45" y="147.25" width="2.1" height="23.05" fill="#6fa4e4" opacity="0.35"/>
<rect x="357.45" y="170.30" width="2.1" height="23.05" fill="#6fa4e4" opacity="0.43"/>
<rect x="357.45" y="193.35" width="2.1" height="23.05" fill="#6fa4e4" opacity="0.47"/>
<rect x="363.75" y="124.20" width="2.1" height="23.05" fill="#6fa4e4" opacity="0.65"/>
<rect x="363.75" y="147.25" width="2.1" height="23.05" fill="#6fa4e4" opacity="0.34"/>
<rect x="363.75" y="170.30" width="2.1" height="23.05" fill="#6fa4e4" opacity="0.52"/>
<rect x="363.75" y="193.35" width="2.1" height="23.05" fill="#6fa4e4" opacity="0.60"/>
<rect x="366.95" y="124.20" width="2.1" height="23.05" fill="#6fa4e4" opacity="0.33"/>
<rect x="366.95" y="147.25" width="2.1" height="23.05" fill="#6fa4e4" opacity="0.20"/>
<rect x="366.95" y="170.30" width="2.1" height="23.05" fill="#6fa4e4" opacity="0.26"/>
<rect x="366.95" y="193.35" width="2.1" height="23.05" fill="#6fa4e4" opacity="0.38"/>
<rect x="380.45" y="124.20" width="2.1" height="23.05" fill="#6fa4e4" opacity="0.50"/>
<rect x="380.45" y="147.25" width="2.1" height="23.05" fill="#6fa4e4" opacity="0.34"/>
<rect x="380.45" y="170.30" width="2.1" height="23.05" fill="#6fa4e4" opacity="0.44"/>
<rect x="380.45" y="193.35" width="2.1" height="23.05" fill="#6fa4e4" opacity="0.63"/>
<rect x="384.65" y="124.20" width="2.1" height="23.05" fill="#6fa4e4" opacity="0.64"/>
<rect x="384.65" y="147.25" width="2.1" height="23.05" fill="#6fa4e4" opacity="0.28"/>
<rect x="384.65" y="170.30" width="2.1" height="23.05" fill="#6fa4e4" opacity="0.38"/>
<rect x="384.65" y="193.35" width="2.1" height="23.05" fill="#6fa4e4" opacity="0.49"/>
<rect x="388.95" y="124.20" width="2.1" height="23.05" fill="#6fa4e4" opacity="0.41"/>
<rect x="388.95" y="147.25" width="2.1" height="23.05" fill="#6fa4e4" opacity="0.21"/>
<rect x="388.95" y="170.30" width="2.1" height="23.05" fill="#6fa4e4" opacity="0.30"/>
<rect x="388.95" y="193.35" width="2.1" height="23.05" fill="#6fa4e4" opacity="0.29"/>
<rect x="403.45" y="124.20" width="2.1" height="23.05" fill="#6fa4e4" opacity="0.52"/>
<rect x="403.45" y="147.25" width="2.1" height="23.05" fill="#6fa4e4" opacity="0.31"/>
<rect x="403.45" y="170.30" width="2.1" height="23.05" fill="#6fa4e4" opacity="0.47"/>
<rect x="403.45" y="193.35" width="2.1" height="23.05" fill="#6fa4e4" opacity="0.57"/>
<rect x="409.45" y="124.20" width="2.1" height="23.05" fill="#6fa4e4" opacity="0.29"/>
<rect x="409.45" y="147.25" width="2.1" height="23.05" fill="#6fa4e4" opacity="0.22"/>
<rect x="409.45" y="170.30" width="2.1" height="23.05" fill="#6fa4e4" opacity="0.25"/>
<rect x="409.45" y="193.35" width="2.1" height="23.05" fill="#6fa4e4" opacity="0.36"/>
<rect x="427.45" y="124.20" width="2.1" height="23.05" fill="#6fa4e4" opacity="0.54"/>
<rect x="427.45" y="147.25" width="2.1" height="23.05" fill="#6fa4e4" opacity="0.29"/>
<rect x="427.45" y="170.30" width="2.1" height="23.05" fill="#6fa4e4" opacity="0.53"/>
<rect x="427.45" y="193.35" width="2.1" height="23.05" fill="#6fa4e4" opacity="0.49"/>
<rect x="431.55" y="124.20" width="2.1" height="23.05" fill="#6fa4e4" opacity="0.35"/>
<rect x="431.55" y="147.25" width="2.1" height="23.05" fill="#6fa4e4" opacity="0.22"/>
<rect x="431.55" y="170.30" width="2.1" height="23.05" fill="#6fa4e4" opacity="0.31"/>
<rect x="431.55" y="193.35" width="2.1" height="23.05" fill="#6fa4e4" opacity="0.36"/>
<rect x="436.75" y="124.20" width="2.1" height="23.05" fill="#6fa4e4" opacity="0.52"/>
<rect x="436.75" y="147.25" width="2.1" height="23.05" fill="#6fa4e4" opacity="0.33"/>
<rect x="436.75" y="170.30" width="2.1" height="23.05" fill="#6fa4e4" opacity="0.46"/>
<rect x="436.75" y="193.35" width="2.1" height="23.05" fill="#6fa4e4" opacity="0.51"/>
<rect x="447.95" y="124.20" width="2.1" height="23.05" fill="#6fa4e4" opacity="0.38"/>
<rect x="447.95" y="147.25" width="2.1" height="23.05" fill="#6fa4e4" opacity="0.20"/>
<rect x="447.95" y="170.30" width="2.1" height="23.05" fill="#6fa4e4" opacity="0.32"/>
<rect x="447.95" y="193.35" width="2.1" height="23.05" fill="#6fa4e4" opacity="0.32"/>
<rect x="459.95" y="124.20" width="2.1" height="23.05" fill="#6fa4e4" opacity="0.30"/>
<rect x="459.95" y="147.25" width="2.1" height="23.05" fill="#6fa4e4" opacity="0.17"/>
<rect x="459.95" y="170.30" width="2.1" height="23.05" fill="#6fa4e4" opacity="0.30"/>
<rect x="459.95" y="193.35" width="2.1" height="23.05" fill="#6fa4e4" opacity="0.35"/>
<rect x="464.95" y="124.20" width="2.1" height="23.05" fill="#6fa4e4" opacity="0.37"/>
<rect x="464.95" y="147.25" width="2.1" height="23.05" fill="#6fa4e4" opacity="0.18"/>
<rect x="464.95" y="170.30" width="2.1" height="23.05" fill="#6fa4e4" opacity="0.29"/>
<rect x="464.95" y="193.35" width="2.1" height="23.05" fill="#6fa4e4" opacity="0.28"/>
<rect x="469.45" y="124.20" width="2.1" height="23.05" fill="#6fa4e4" opacity="0.29"/>
<rect x="469.45" y="147.25" width="2.1" height="23.05" fill="#6fa4e4" opacity="0.21"/>
<rect x="469.45" y="170.30" width="2.1" height="23.05" fill="#6fa4e4" opacity="0.24"/>
<rect x="469.45" y="193.35" width="2.1" height="23.05" fill="#6fa4e4" opacity="0.34"/>
<rect x="474.85" y="124.20" width="2.1" height="23.05" fill="#6fa4e4" opacity="0.32"/>
<rect x="474.85" y="147.25" width="2.1" height="23.05" fill="#6fa4e4" opacity="0.17"/>
<rect x="474.85" y="170.30" width="2.1" height="23.05" fill="#6fa4e4" opacity="0.31"/>
<rect x="474.85" y="193.35" width="2.1" height="23.05" fill="#6fa4e4" opacity="0.38"/>
<rect x="479.45" y="124.20" width="2.1" height="23.05" fill="#6fa4e4" opacity="0.32"/>
<rect x="479.45" y="147.25" width="2.1" height="23.05" fill="#6fa4e4" opacity="0.17"/>
<rect x="479.45" y="170.30" width="2.1" height="23.05" fill="#6fa4e4" opacity="0.27"/>
<rect x="479.45" y="193.35" width="2.1" height="23.05" fill="#6fa4e4" opacity="0.28"/>
<rect x="504.65" y="124.20" width="2.1" height="23.05" fill="#6fa4e4" opacity="0.41"/>
<rect x="504.65" y="147.25" width="2.1" height="23.05" fill="#6fa4e4" opacity="0.16"/>
<rect x="504.65" y="170.30" width="2.1" height="23.05" fill="#6fa4e4" opacity="0.28"/>
<rect x="504.65" y="193.35" width="2.1" height="23.05" fill="#6fa4e4" opacity="0.29"/>
<rect x="510.95" y="124.20" width="2.1" height="23.05" fill="#6fa4e4" opacity="0.28"/>
<rect x="510.95" y="147.25" width="2.1" height="23.05" fill="#6fa4e4" opacity="0.23"/>
<rect x="510.95" y="170.30" width="2.1" height="23.05" fill="#6fa4e4" opacity="0.30"/>
<rect x="510.95" y="193.35" width="2.1" height="23.05" fill="#6fa4e4" opacity="0.36"/>
<rect x="517.15" y="124.20" width="2.1" height="23.05" fill="#6fa4e4" opacity="0.38"/>
<rect x="517.15" y="147.25" width="2.1" height="23.05" fill="#6fa4e4" opacity="0.21"/>
<rect x="517.15" y="170.30" width="2.1" height="23.05" fill="#6fa4e4" opacity="0.29"/>
<rect x="517.15" y="193.35" width="2.1" height="23.05" fill="#6fa4e4" opacity="0.35"/>
<rect x="523.95" y="124.20" width="2.1" height="23.05" fill="#6fa4e4" opacity="0.13"/>
<rect x="523.95" y="170.30" width="2.1" height="23.05" fill="#6fa4e4" opacity="0.12"/>
<rect x="523.95" y="193.35" width="2.1" height="23.05" fill="#6fa4e4" opacity="0.14"/>
<rect x="529.95" y="124.20" width="2.1" height="23.05" fill="#6fa4e4" opacity="0.15"/>
<rect x="529.95" y="147.25" width="2.1" height="23.05" fill="#6fa4e4" opacity="0.08"/>
<rect x="529.95" y="170.30" width="2.1" height="23.05" fill="#6fa4e4" opacity="0.09"/>
<rect x="529.95" y="193.35" width="2.1" height="23.05" fill="#6fa4e4" opacity="0.14"/>
<rect x="546.95" y="124.20" width="2.1" height="23.05" fill="#6fa4e4" opacity="0.29"/>
<rect x="546.95" y="147.25" width="2.1" height="23.05" fill="#6fa4e4" opacity="0.22"/>
<rect x="546.95" y="170.30" width="2.1" height="23.05" fill="#6fa4e4" opacity="0.23"/>
<rect x="546.95" y="193.35" width="2.1" height="23.05" fill="#6fa4e4" opacity="0.30"/>
<rect x="554.95" y="124.20" width="2.1" height="23.05" fill="#6fa4e4" opacity="0.35"/>
<rect x="554.95" y="147.25" width="2.1" height="23.05" fill="#6fa4e4" opacity="0.22"/>
<rect x="554.95" y="170.30" width="2.1" height="23.05" fill="#6fa4e4" opacity="0.29"/>
<rect x="554.95" y="193.35" width="2.1" height="23.05" fill="#6fa4e4" opacity="0.28"/>
<rect x="312.95" y="124.20" width="2.1" height="23.05" fill="#6fa4e4" opacity="0.15"/>
<rect x="312.95" y="170.30" width="2.1" height="23.05" fill="#6fa4e4" opacity="0.10"/>
<rect x="312.95" y="193.35" width="2.1" height="23.05" fill="#6fa4e4" opacity="0.12"/>
<rect x="306.95" y="124.20" width="2.1" height="23.05" fill="#6fa4e4" opacity="0.15"/>
<rect x="306.95" y="170.30" width="2.1" height="23.05" fill="#6fa4e4" opacity="0.10"/>
<rect x="306.95" y="193.35" width="2.1" height="23.05" fill="#6fa4e4" opacity="0.12"/>
<rect x="326.65" y="124.20" width="1.5" height="23.05" fill="#6c5fb0" opacity="0.25"/>
<rect x="326.65" y="147.25" width="1.5" height="23.05" fill="#6c5fb0" opacity="0.14"/>
<rect x="326.65" y="170.30" width="1.5" height="23.05" fill="#6c5fb0" opacity="0.21"/>
<rect x="326.65" y="193.35" width="1.5" height="23.05" fill="#6c5fb0" opacity="0.23"/>
<rect x="333.75" y="124.20" width="1.5" height="23.05" fill="#6c5fb0" opacity="0.25"/>
<rect x="333.75" y="147.25" width="1.5" height="23.05" fill="#6c5fb0" opacity="0.13"/>
<rect x="333.75" y="170.30" width="1.5" height="23.05" fill="#6c5fb0" opacity="0.23"/>
<rect x="333.75" y="193.35" width="1.5" height="23.05" fill="#6c5fb0" opacity="0.28"/>
<rect x="365.65" y="124.20" width="1.5" height="23.05" fill="#6c5fb0" opacity="0.25"/>
<rect x="365.65" y="147.25" width="1.5" height="23.05" fill="#6c5fb0" opacity="0.15"/>
<rect x="365.65" y="170.30" width="1.5" height="23.05" fill="#6c5fb0" opacity="0.23"/>
<rect x="365.65" y="193.35" width="1.5" height="23.05" fill="#6c5fb0" opacity="0.31"/>
<rect x="378.75" y="124.20" width="1.5" height="23.05" fill="#6c5fb0" opacity="0.33"/>
<rect x="378.75" y="147.25" width="1.5" height="23.05" fill="#6c5fb0" opacity="0.13"/>
<rect x="378.75" y="170.30" width="1.5" height="23.05" fill="#6c5fb0" opacity="0.26"/>
<rect x="378.75" y="193.35" width="1.5" height="23.05" fill="#6c5fb0" opacity="0.29"/>
<rect x="387.05" y="124.20" width="1.5" height="23.05" fill="#6c5fb0" opacity="0.25"/>
<rect x="387.05" y="147.25" width="1.5" height="23.05" fill="#6c5fb0" opacity="0.14"/>
<rect x="387.05" y="170.30" width="1.5" height="23.05" fill="#6c5fb0" opacity="0.22"/>
<rect x="387.05" y="193.35" width="1.5" height="23.05" fill="#6c5fb0" opacity="0.24"/>
<rect x="391.75" y="124.20" width="1.5" height="23.05" fill="#6c5fb0" opacity="0.26"/>
<rect x="391.75" y="147.25" width="1.5" height="23.05" fill="#6c5fb0" opacity="0.15"/>
<rect x="391.75" y="170.30" width="1.5" height="23.05" fill="#6c5fb0" opacity="0.23"/>
<rect x="391.75" y="193.35" width="1.5" height="23.05" fill="#6c5fb0" opacity="0.27"/>
<rect x="411.25" y="124.20" width="1.5" height="23.05" fill="#6c5fb0" opacity="0.23"/>
<rect x="411.25" y="147.25" width="1.5" height="23.05" fill="#6c5fb0" opacity="0.15"/>
<rect x="411.25" y="170.30" width="1.5" height="23.05" fill="#6c5fb0" opacity="0.20"/>
<rect x="411.25" y="193.35" width="1.5" height="23.05" fill="#6c5fb0" opacity="0.31"/>
<rect x="425.75" y="124.20" width="1.5" height="23.05" fill="#6c5fb0" opacity="0.24"/>
<rect x="425.75" y="147.25" width="1.5" height="23.05" fill="#6c5fb0" opacity="0.13"/>
<rect x="425.75" y="170.30" width="1.5" height="23.05" fill="#6c5fb0" opacity="0.21"/>
<rect x="425.75" y="193.35" width="1.5" height="23.05" fill="#6c5fb0" opacity="0.24"/>
<rect x="434.25" y="124.20" width="1.5" height="23.05" fill="#6c5fb0" opacity="0.31"/>
<rect x="434.25" y="147.25" width="1.5" height="23.05" fill="#6c5fb0" opacity="0.13"/>
<rect x="434.25" y="170.30" width="1.5" height="23.05" fill="#6c5fb0" opacity="0.26"/>
<rect x="434.25" y="193.35" width="1.5" height="23.05" fill="#6c5fb0" opacity="0.27"/>
<rect x="458.75" y="124.20" width="1.5" height="23.05" fill="#6c5fb0" opacity="0.30"/>
<rect x="458.75" y="147.25" width="1.5" height="23.05" fill="#6c5fb0" opacity="0.14"/>
<rect x="458.75" y="170.30" width="1.5" height="23.05" fill="#6c5fb0" opacity="0.22"/>
<rect x="458.75" y="193.35" width="1.5" height="23.05" fill="#6c5fb0" opacity="0.24"/>
<rect x="487.25" y="124.20" width="1.5" height="23.05" fill="#6c5fb0" opacity="0.30"/>
<rect x="487.25" y="147.25" width="1.5" height="23.05" fill="#6c5fb0" opacity="0.16"/>
<rect x="487.25" y="170.30" width="1.5" height="23.05" fill="#6c5fb0" opacity="0.20"/>
<rect x="487.25" y="193.35" width="1.5" height="23.05" fill="#6c5fb0" opacity="0.24"/>
<rect x="493.75" y="124.20" width="1.5" height="23.05" fill="#6c5fb0" opacity="0.23"/>
<rect x="493.75" y="147.25" width="1.5" height="23.05" fill="#6c5fb0" opacity="0.13"/>
<rect x="493.75" y="170.30" width="1.5" height="23.05" fill="#6c5fb0" opacity="0.23"/>
<rect x="493.75" y="193.35" width="1.5" height="23.05" fill="#6c5fb0" opacity="0.31"/>
</g>
<path d="M300.5 94.5 C300.78 95.00 301.32 98.42 302.2 97.5 C303.08 96.58 304.58 92.33 305.8 89 C307.02 85.67 308.42 80.75 309.5 77.5 C310.58 74.25 311.30 71.78 312.3 69.5 C313.30 67.22 314.25 65.17 315.5 63.8 C316.75 62.43 318.38 61.60 319.8 61.3 C321.22 61.00 322.75 61.88 324 62 C325.25 62.12 326.38 62.42 327.3 62 C328.22 61.58 328.88 60.67 329.5 59.5 C330.12 58.33 330.42 58.08 331 55 C331.58 51.92 332.30 45.92 333 41 C333.70 36.08 334.50 25.83 335.2 25.5 C335.90 25.17 336.57 33.25 337.2 39 C337.83 44.75 338.45 54.00 339 60 C339.55 66.00 339.87 71.58 340.5 75 C341.13 78.42 342.08 80.08 342.8 80.5 C343.52 80.92 344.05 78.75 344.8 77.5 C345.55 76.25 345.85 74.33 347.3 73 C348.75 71.67 351.72 70.18 353.5 69.5 C355.28 68.82 356.53 69.03 358 68.9 C359.47 68.77 360.97 69.55 362.3 68.7 C363.63 67.85 364.97 66.50 366 63.8 C367.03 61.10 367.67 57.92 368.5 52.5 C369.33 47.08 370.25 32.55 371 31.3 C371.75 30.05 372.37 40.22 373 45 C373.63 49.78 374.22 55.42 374.8 60 C375.38 64.58 375.80 69.67 376.5 72.5 C377.20 75.33 378.25 76.42 379 77 C379.75 77.58 380.25 76.53 381 76 C381.75 75.47 382.45 75.13 383.5 73.8 C384.55 72.47 385.63 69.38 387.3 68 C388.97 66.62 391.42 66.62 393.5 65.5 C395.58 64.38 398.13 63.47 399.8 61.3 C401.47 59.13 402.33 58.05 403.5 52.5 C404.67 46.95 405.92 29.42 406.8 28 C407.68 26.58 408.18 38.67 408.8 44 C409.42 49.33 409.92 55.25 410.5 60 C411.08 64.75 411.38 69.37 412.3 72.5 C413.22 75.63 414.55 78.05 416 78.8 C417.45 79.55 419.12 77.00 421 77 C422.88 77.00 425.80 78.92 427.3 78.8 C428.80 78.68 428.92 78.18 430 76.3 C431.08 74.42 432.63 71.88 433.8 67.5 C434.97 63.12 436.05 54.37 437 50 C437.95 45.63 438.58 40.88 439.5 41.3 C440.42 41.72 441.58 47.92 442.5 52.5 C443.42 57.08 443.75 65.47 445 68.8 C446.25 72.13 447.92 71.55 450 72.5 C452.08 73.45 455.33 74.17 457.5 74.5 C459.67 74.83 461.12 74.53 463 74.5 C464.88 74.47 467.22 74.97 468.8 74.3 C470.38 73.63 471.25 70.05 472.5 70.5 C473.75 70.95 475.25 77.50 476.3 77 C477.35 76.50 478.05 72.00 478.8 67.5 C479.55 63.00 480.10 55.62 480.8 50 C481.50 44.38 482.08 33.38 483 33.8 C483.92 34.22 485.33 47.30 486.3 52.5 C487.27 57.70 487.77 60.92 488.8 65 C489.83 69.08 491.05 75.67 492.5 77 C493.95 78.33 495.62 73.67 497.5 73 C499.38 72.33 501.72 74.33 503.8 73 C505.88 71.67 508.13 67.00 510 65 C511.87 63.00 513.33 61.92 515 61 C516.67 60.08 518.33 59.50 520 59.5 C521.67 59.50 523.33 60.28 525 61 C526.67 61.72 527.70 62.58 530 63.8 C532.30 65.02 536.50 68.10 538.8 68.3 C541.10 68.50 542.43 68.05 543.8 65 C545.17 61.95 546.08 56.87 547 50 C547.92 43.13 548.47 22.97 549.3 23.8 C550.13 24.63 551.25 46.05 552 55 C552.75 63.95 553.08 71.87 553.8 77.5 C554.52 83.13 555.88 86.92 556.3 88.8" fill="none" stroke="#0a0a12" stroke-width="1.0" stroke-linejoin="round"/>
<path d="M301 156.3 C301.42 157.08 302.67 159.88 303.5 161 C304.33 162.12 305.08 163.00 306 163 C306.92 163.00 307.95 161.50 309 161 C310.05 160.50 311.30 159.67 312.3 160 C313.30 160.33 314.17 161.75 315 163 C315.83 164.25 316.38 166.03 317.3 167.5 C318.22 168.97 319.47 170.75 320.5 171.8 C321.53 172.85 322.25 173.93 323.5 173.8 C324.75 173.67 326.33 172.25 328 171 C329.67 169.75 331.83 167.88 333.5 166.3 C335.17 164.72 336.75 162.97 338 161.5 C339.25 160.03 340.17 159.42 341 157.5 C341.83 155.58 342.37 152.92 343 150 C343.63 147.08 344.00 143.42 344.8 140 C345.60 136.58 346.85 128.67 347.8 129.5 C348.75 130.33 349.75 138.67 350.5 145 C351.25 151.33 351.50 160.00 352.3 167.5 C353.10 175.00 354.47 187.92 355.3 190 C356.13 192.08 356.77 182.92 357.3 180 C357.83 177.08 357.97 174.78 358.5 172.5 C359.03 170.22 359.75 167.50 360.5 166.3 C361.25 165.10 361.67 165.52 363 165.3 C364.33 165.08 367.00 165.88 368.5 165 C370.00 164.12 370.83 161.78 372 160 C373.17 158.22 374.50 154.72 375.5 154.3 C376.50 153.88 377.08 156.13 378 157.5 C378.92 158.87 380.00 162.17 381 162.5 C382.00 162.83 382.67 161.25 384 159.5 C385.33 157.75 387.83 152.58 389 152 C390.17 151.42 390.33 153.42 391 156 C391.67 158.58 392.03 161.20 393 167.5 C393.97 173.80 395.80 190.88 396.8 193.8 C397.80 196.72 398.38 188.13 399 185 C399.62 181.87 399.75 178.75 400.5 175 C401.25 171.25 402.37 165.20 403.5 162.5 C404.63 159.80 406.05 158.38 407.3 158.8 C408.55 159.22 409.88 162.80 411 165 C412.12 167.20 412.87 170.00 414 172 C415.13 174.00 416.47 176.42 417.8 177 C419.13 177.58 420.63 176.25 422 175.5 C423.37 174.75 424.08 174.25 426 172.5 C427.92 170.75 431.78 167.50 433.5 165 C435.22 162.50 435.22 161.67 436.3 157.5 C437.38 153.33 438.75 144.58 440 140 C441.25 135.42 442.55 129.58 443.8 130 C445.05 130.42 446.38 135.83 447.5 142.5 C448.62 149.17 449.45 158.42 450.5 170 C451.55 181.58 452.72 211.17 453.8 212 C454.88 212.83 456.05 182.75 457 175 C457.95 167.25 458.50 167.28 459.5 165.5 C460.50 163.72 461.67 164.47 463 164.3 C464.33 164.13 465.28 164.17 467.5 164.5 C469.72 164.83 474.00 167.05 476.3 166.3 C478.60 165.55 480.05 161.47 481.3 160 C482.55 158.53 482.97 156.45 483.8 157.5 C484.63 158.55 485.68 163.88 486.3 166.3 C486.92 168.72 486.88 168.25 487.5 172 C488.12 175.75 489.20 189.13 490 188.8 C490.80 188.47 491.67 176.47 492.3 170 C492.93 163.53 493.27 154.37 493.8 150 C494.33 145.63 494.80 142.97 495.5 143.8 C496.20 144.63 497.03 151.67 498 155 C498.97 158.33 500.13 161.80 501.3 163.8 C502.47 165.80 503.55 167.42 505 167 C506.45 166.58 507.92 162.55 510 161.3 C512.08 160.05 514.78 159.80 517.5 159.5 C520.22 159.20 524.00 159.83 526.3 159.5 C528.60 159.17 530.18 156.17 531.3 157.5 C532.42 158.83 532.38 162.92 533 167.5 C533.62 172.08 534.33 179.08 535 185 C535.67 190.92 536.28 204.67 537 203 C537.72 201.33 538.67 183.42 539.3 175 C539.93 166.58 540.27 157.17 540.8 152.5 C541.33 147.83 541.72 145.75 542.5 147 C543.28 148.25 544.33 155.95 545.5 160 C546.67 164.05 548.12 170.88 549.5 171.3 C550.88 171.72 552.55 164.72 553.8 162.5 C555.05 160.28 556.47 158.75 557 158" fill="none" stroke="#0a0a12" stroke-width="1.0" stroke-linejoin="round"/>
<text x="287.5" y="24.8" font-size="5.45" font-weight="bold" text-anchor="middle" fill="#111" stroke="#111" stroke-width="0.15">Gradient*</text>
<text x="287.5" y="31.3" font-size="5.45" font-weight="bold" text-anchor="middle" fill="#111" stroke="#111" stroke-width="0.15">Input</text>
<text x="287.5" y="48.2" font-size="5.45" font-weight="bold" text-anchor="middle" fill="#111" stroke="#111" stroke-width="0.15">Integrated</text>
<text x="287.5" y="54.9" font-size="5.45" font-weight="bold" text-anchor="middle" fill="#111" stroke="#111" stroke-width="0.15">Gradients</text>
<text x="287.5" y="74" font-size="5.45" font-weight="bold" text-anchor="middle" fill="#111" stroke="#111" stroke-width="0.15">DeepLIFT</text>
<text x="287.5" y="98.2" font-size="5.45" font-weight="bold" text-anchor="middle" fill="#111" stroke="#111" stroke-width="0.15">ε-LRP</text>
<text x="287.5" y="134.6" font-size="5.45" font-weight="bold" text-anchor="middle" fill="#111" stroke="#111" stroke-width="0.15">Gradient*</text>
<text x="287.5" y="141.1" font-size="5.45" font-weight="bold" text-anchor="middle" fill="#111" stroke="#111" stroke-width="0.15">Input</text>
<text x="287.5" y="158.0" font-size="5.45" font-weight="bold" text-anchor="middle" fill="#111" stroke="#111" stroke-width="0.15">Integrated</text>
<text x="287.5" y="164.7" font-size="5.45" font-weight="bold" text-anchor="middle" fill="#111" stroke="#111" stroke-width="0.15">Gradients</text>
<text x="287.5" y="183.8" font-size="5.45" font-weight="bold" text-anchor="middle" fill="#111" stroke="#111" stroke-width="0.15">DeepLIFT</text>
<text x="287.5" y="209.0" font-size="5.45" font-weight="bold" text-anchor="middle" fill="#111" stroke="#111" stroke-width="0.15">ε-LRP</text>
<text x="300.3" y="112.9" font-size="5.3" font-weight="bold" text-anchor="middle" fill="#111" stroke="#111" stroke-width="0.25">0</text>
<text x="367" y="112.9" font-size="5.3" font-weight="bold" text-anchor="middle" fill="#111" stroke="#111" stroke-width="0.25">0.25</text>
<text x="428.7" y="112.9" font-size="5.3" font-weight="bold" text-anchor="middle" fill="#111" stroke="#111" stroke-width="0.25">0.5</text>
<text x="492.7" y="112.9" font-size="5.3" font-weight="bold" text-anchor="middle" fill="#111" stroke="#111" stroke-width="0.25">0.75</text>
<text x="553" y="112.9" font-size="5.3" font-weight="bold" text-anchor="middle" fill="#111" stroke="#111" stroke-width="0.25">1</text>
<path d="M367 107.6 v-3.4" stroke="#111" stroke-width="0.6"/>
<path d="M428.4 107.6 v-3.4" stroke="#111" stroke-width="0.6"/>
<path d="M492.5 107.6 v-3.4" stroke="#111" stroke-width="0.6"/>
<path d="M552.5 107.6 v-3.4" stroke="#111" stroke-width="0.6"/>
<text x="438.3" y="120.0" font-size="7.4" stroke="#111" stroke-width="0.2" text-anchor="middle" fill="#111">Time(seconds)</text>
<text x="300.3" y="222.10000000000002" font-size="5.3" font-weight="bold" text-anchor="middle" fill="#111" stroke="#111" stroke-width="0.25">0</text>
<text x="367" y="222.10000000000002" font-size="5.3" font-weight="bold" text-anchor="middle" fill="#111" stroke="#111" stroke-width="0.25">0.25</text>
<text x="428.7" y="222.10000000000002" font-size="5.3" font-weight="bold" text-anchor="middle" fill="#111" stroke="#111" stroke-width="0.25">0.5</text>
<text x="492.7" y="222.10000000000002" font-size="5.3" font-weight="bold" text-anchor="middle" fill="#111" stroke="#111" stroke-width="0.25">0.75</text>
<text x="553" y="222.10000000000002" font-size="5.3" font-weight="bold" text-anchor="middle" fill="#111" stroke="#111" stroke-width="0.25">1</text>
<path d="M367 216.4 v-3.4" stroke="#111" stroke-width="0.6"/>
<path d="M428.4 216.4 v-3.4" stroke="#111" stroke-width="0.6"/>
<path d="M492.5 216.4 v-3.4" stroke="#111" stroke-width="0.6"/>
<path d="M552.5 216.4 v-3.4" stroke="#111" stroke-width="0.6"/>
<text x="438.3" y="229.75" font-size="7.4" stroke="#111" stroke-width="0.2" text-anchor="middle" fill="#111">Time(seconds)</text>
<text x="446" y="239.6" font-size="8.6" font-weight="bold" text-anchor="middle" fill="#111" stroke="#111" stroke-width="0.15" textLength="11.6" lengthAdjust="spacingAndGlyphs">(b)</text>
<defs><linearGradient id="cb" x1="0" y1="0" x2="0" y2="1"><stop offset="0" stop-color="#c24fa4"/><stop offset="0.25" stop-color="#9a62b4"/><stop offset="0.5" stop-color="#7577bf"/><stop offset="0.75" stop-color="#62a2d8"/><stop offset="1" stop-color="#55cbe4"/></linearGradient></defs>
<rect x="564.2" y="70.6" width="8" height="91.4" fill="url(#cb)" stroke="#5f4f90" stroke-width="0.5"/>
<text x="572.6" y="116.3" font-size="5" font-weight="bold" fill="#111">0</text>
</svg></body></html>
